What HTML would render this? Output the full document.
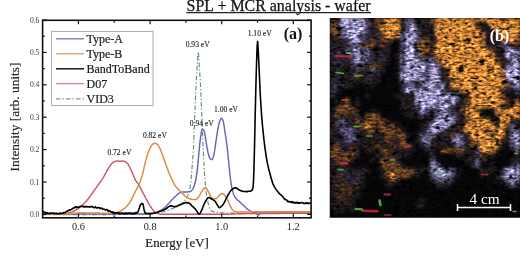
<!DOCTYPE html>
<html><head><meta charset="utf-8"><style>
html,body{margin:0;padding:0;background:#fff;}
body{width:520px;height:260px;overflow:hidden;position:relative;font-family:"Liberation Serif",serif;}
svg{position:absolute;left:0;top:0;}
</style></head><body>
<svg width="520" height="260" viewBox="0 0 520 260">
<defs>
<filter id="tex" x="0" y="0" width="100%" height="100%" color-interpolation-filters="sRGB">
<feGaussianBlur in="SourceGraphic" stdDeviation="1.4" result="b"/>
<feTurbulence type="fractalNoise" baseFrequency="0.14 0.24" numOctaves="2" seed="7" result="n"/>
<feColorMatrix in="n" type="matrix" values="0.33 0.33 0.33 0 0  0.33 0.33 0.33 0 0  0.33 0.33 0.33 0 0  0 0 0 0 1" result="g0"/>
<feComponentTransfer in="g0" result="g"><feFuncR type="table" tableValues="0 0 0 0 0 0 0.02 0.2 0.5 0.7 0.78 0.83 0.86 0.89 0.92 0.94 0.96 0.98 1 1 1"/><feFuncG type="table" tableValues="0 0 0 0 0 0 0.02 0.2 0.5 0.7 0.78 0.83 0.86 0.89 0.92 0.94 0.96 0.98 1 1 1"/><feFuncB type="table" tableValues="0 0 0 0 0 0 0.02 0.2 0.5 0.7 0.78 0.83 0.86 0.89 0.92 0.94 0.96 0.98 1 1 1"/></feComponentTransfer>
<feComposite in="b" in2="g" operator="arithmetic" k1="1.35" k2="0" k3="0" k4="0" result="t1"/>
<feTurbulence type="fractalNoise" baseFrequency="0.26 0.48" numOctaves="2" seed="11" result="n2"/>
<feColorMatrix in="n2" type="matrix" values="0.33 0.33 0.33 0 0  0.33 0.33 0.33 0 0  0.33 0.33 0.33 0 0  0 0 0 0 1" result="g2"/>
<feComposite in="t1" in2="g2" operator="arithmetic" k1="3.8" k2="-0.88" k3="0" k4="0" result="t"/>
<feGaussianBlur in="t" stdDeviation="0.45" result="t2"/>
<feComposite in="t2" in2="SourceGraphic" operator="in"/>
</filter>
<filter id="sb" x="-10%" y="-10%" width="120%" height="120%"><feGaussianBlur stdDeviation="0.7"/></filter>
<clipPath id="pc"><rect x="42.6" y="20.3" width="268.5" height="197.5"/></clipPath>
</defs>
<text x="186.6" y="11.3" font-size="16" fill="#111" stroke="#111" stroke-width="0.25" textLength="184" lengthAdjust="spacingAndGlyphs">SPL + MCR analysis - wafer</text>
<line x1="186.3" y1="12.7" x2="371" y2="12.7" stroke="#222" stroke-width="1.2"/>
<!-- image -->
<g transform="translate(329.5,18)">
<svg x="0" y="0" width="190.5" height="199.7" overflow="hidden">
<g filter="url(#tex)">
<rect x="0" y="0" width="191" height="200" fill="#060608"/>
<g transform="translate(0.5,0)"><rect x="0" y="0" width="10.1" height="5.1" fill="#1f181a"/><rect x="10" y="0" width="25.1" height="5.1" fill="#9690bc"/><rect x="35" y="0" width="5.1" height="5.1" fill="#262130"/><rect x="40" y="0" width="5.1" height="5.1" fill="#1f181a"/><rect x="45" y="0" width="10.1" height="5.1" fill="#603c20"/><rect x="55" y="0" width="15.1" height="5.1" fill="#c47c34"/><rect x="70" y="0" width="5.1" height="5.1" fill="#1f181a"/><rect x="75" y="0" width="10.1" height="5.1" fill="#4c4666"/><rect x="85" y="0" width="15.1" height="5.1" fill="#1f181a"/><rect x="100" y="0" width="5.1" height="5.1" fill="#603c20"/><rect x="105" y="0" width="40.1" height="5.1" fill="#c47c34"/><rect x="145" y="0" width="5.1" height="5.1" fill="#603c20"/><rect x="150" y="0" width="40.1" height="5.1" fill="#c47c34"/><rect x="0" y="5" width="10.1" height="5.1" fill="#603c20"/><rect x="10" y="5" width="25.1" height="5.1" fill="#9690bc"/><rect x="35" y="5" width="5.1" height="5.1" fill="#4c4666"/><rect x="40" y="5" width="5.1" height="5.1" fill="#1f181a"/><rect x="45" y="5" width="5.1" height="5.1" fill="#603c20"/><rect x="50" y="5" width="20.1" height="5.1" fill="#c47c34"/><rect x="70" y="5" width="5.1" height="5.1" fill="#1f181a"/><rect x="75" y="5" width="5.1" height="5.1" fill="#4c4666"/><rect x="80" y="5" width="5.1" height="5.1" fill="#9690bc"/><rect x="85" y="5" width="20.1" height="5.1" fill="#1f181a"/><rect x="105" y="5" width="40.1" height="5.1" fill="#c47c34"/><rect x="145" y="5" width="15.1" height="5.1" fill="#1f181a"/><rect x="160" y="5" width="30.1" height="5.1" fill="#c47c34"/><rect x="0" y="10" width="10.1" height="5.1" fill="#603c20"/><rect x="10" y="10" width="5.1" height="5.1" fill="#4c4666"/><rect x="15" y="10" width="20.1" height="5.1" fill="#9690bc"/><rect x="35" y="10" width="5.1" height="5.1" fill="#4c4666"/><rect x="40" y="10" width="10.1" height="5.1" fill="#1f181a"/><rect x="50" y="10" width="20.1" height="5.1" fill="#c47c34"/><rect x="70" y="10" width="5.1" height="5.1" fill="#1f181a"/><rect x="75" y="10" width="5.1" height="5.1" fill="#4c4666"/><rect x="80" y="10" width="5.1" height="5.1" fill="#9690bc"/><rect x="85" y="10" width="5.1" height="5.1" fill="#4c4666"/><rect x="90" y="10" width="15.1" height="5.1" fill="#1f181a"/><rect x="105" y="10" width="45.1" height="5.1" fill="#c47c34"/><rect x="150" y="10" width="15.1" height="5.1" fill="#1f181a"/><rect x="165" y="10" width="25.1" height="5.1" fill="#c47c34"/><rect x="0" y="15" width="5.1" height="5.1" fill="#1f181a"/><rect x="5" y="15" width="5.1" height="5.1" fill="#603c20"/><rect x="10" y="15" width="5.1" height="5.1" fill="#4c4666"/><rect x="15" y="15" width="15.1" height="5.1" fill="#9690bc"/><rect x="30" y="15" width="5.1" height="5.1" fill="#4c4666"/><rect x="35" y="15" width="5.1" height="5.1" fill="#262130"/><rect x="40" y="15" width="5.1" height="5.1" fill="#1f181a"/><rect x="45" y="15" width="5.1" height="5.1" fill="#262130"/><rect x="50" y="15" width="5.1" height="5.1" fill="#603c20"/><rect x="55" y="15" width="15.1" height="5.1" fill="#c47c34"/><rect x="70" y="15" width="5.1" height="5.1" fill="#4c4666"/><rect x="75" y="15" width="10.1" height="5.1" fill="#9690bc"/><rect x="85" y="15" width="5.1" height="5.1" fill="#4c4666"/><rect x="90" y="15" width="15.1" height="5.1" fill="#1f181a"/><rect x="105" y="15" width="50.1" height="5.1" fill="#c47c34"/><rect x="155" y="15" width="10.1" height="5.1" fill="#1f181a"/><rect x="165" y="15" width="5.1" height="5.1" fill="#603c20"/><rect x="170" y="15" width="20.1" height="5.1" fill="#c47c34"/><rect x="0" y="20" width="10.1" height="5.1" fill="#1f181a"/><rect x="10" y="20" width="5.1" height="5.1" fill="#262130"/><rect x="15" y="20" width="5.1" height="5.1" fill="#4c4666"/><rect x="20" y="20" width="10.1" height="5.1" fill="#9690bc"/><rect x="30" y="20" width="5.1" height="5.1" fill="#4c4666"/><rect x="35" y="20" width="5.1" height="5.1" fill="#262130"/><rect x="40" y="20" width="5.1" height="5.1" fill="#603c20"/><rect x="45" y="20" width="5.1" height="5.1" fill="#262130"/><rect x="50" y="20" width="10.1" height="5.1" fill="#603c20"/><rect x="60" y="20" width="5.1" height="5.1" fill="#1f181a"/><rect x="70" y="20" width="5.1" height="5.1" fill="#4c4666"/><rect x="75" y="20" width="10.1" height="5.1" fill="#9690bc"/><rect x="85" y="20" width="5.1" height="5.1" fill="#4c4666"/><rect x="90" y="20" width="10.1" height="5.1" fill="#603c20"/><rect x="100" y="20" width="5.1" height="5.1" fill="#1f181a"/><rect x="105" y="20" width="5.1" height="5.1" fill="#603c20"/><rect x="110" y="20" width="40.1" height="5.1" fill="#c47c34"/><rect x="150" y="20" width="5.1" height="5.1" fill="#603c20"/><rect x="155" y="20" width="15.1" height="5.1" fill="#1f181a"/><rect x="170" y="20" width="5.1" height="5.1" fill="#603c20"/><rect x="175" y="20" width="10.1" height="5.1" fill="#c47c34"/><rect x="185" y="20" width="5.1" height="5.1" fill="#603c20"/><rect x="0" y="25" width="5.1" height="5.1" fill="#1f181a"/><rect x="5" y="25" width="5.1" height="5.1" fill="#262130"/><rect x="10" y="25" width="5.1" height="5.1" fill="#1f181a"/><rect x="15" y="25" width="5.1" height="5.1" fill="#262130"/><rect x="20" y="25" width="10.1" height="5.1" fill="#4c4666"/><rect x="30" y="25" width="15.1" height="5.1" fill="#603c20"/><rect x="45" y="25" width="5.1" height="5.1" fill="#262130"/><rect x="50" y="25" width="10.1" height="5.1" fill="#1f181a"/><rect x="70" y="25" width="5.1" height="5.1" fill="#4c4666"/><rect x="75" y="25" width="5.1" height="5.1" fill="#9690bc"/><rect x="80" y="25" width="5.1" height="5.1" fill="#4c4666"/><rect x="85" y="25" width="15.1" height="5.1" fill="#603c20"/><rect x="100" y="25" width="5.1" height="5.1" fill="#1f181a"/><rect x="105" y="25" width="50.1" height="5.1" fill="#c47c34"/><rect x="155" y="25" width="15.1" height="5.1" fill="#1f181a"/><rect x="170" y="25" width="10.1" height="5.1" fill="#4c4666"/><rect x="185" y="25" width="5.1" height="5.1" fill="#603c20"/><rect x="0" y="30" width="5.1" height="5.1" fill="#262130"/><rect x="5" y="30" width="5.1" height="5.1" fill="#1f181a"/><rect x="10" y="30" width="5.1" height="5.1" fill="#262130"/><rect x="15" y="30" width="10.1" height="5.1" fill="#4c4666"/><rect x="25" y="30" width="5.1" height="5.1" fill="#9690bc"/><rect x="30" y="30" width="10.1" height="5.1" fill="#4c4666"/><rect x="40" y="30" width="10.1" height="5.1" fill="#1f181a"/><rect x="50" y="30" width="5.1" height="5.1" fill="#262130"/><rect x="55" y="30" width="5.1" height="5.1" fill="#1f181a"/><rect x="70" y="30" width="5.1" height="5.1" fill="#4c4666"/><rect x="75" y="30" width="10.1" height="5.1" fill="#9690bc"/><rect x="85" y="30" width="5.1" height="5.1" fill="#4c4666"/><rect x="90" y="30" width="15.1" height="5.1" fill="#603c20"/><rect x="105" y="30" width="55.1" height="5.1" fill="#c47c34"/><rect x="160" y="30" width="5.1" height="5.1" fill="#603c20"/><rect x="165" y="30" width="5.1" height="5.1" fill="#1f181a"/><rect x="175" y="30" width="10.1" height="5.1" fill="#9690bc"/><rect x="185" y="30" width="5.1" height="5.1" fill="#4c4666"/><rect x="0" y="35" width="20.1" height="5.1" fill="#262130"/><rect x="20" y="35" width="5.1" height="5.1" fill="#4c4666"/><rect x="25" y="35" width="5.1" height="5.1" fill="#9690bc"/><rect x="30" y="35" width="10.1" height="5.1" fill="#4c4666"/><rect x="40" y="35" width="5.1" height="5.1" fill="#262130"/><rect x="45" y="35" width="5.1" height="5.1" fill="#1f181a"/><rect x="50" y="35" width="5.1" height="5.1" fill="#262130"/><rect x="55" y="35" width="5.1" height="5.1" fill="#1f181a"/><rect x="65" y="35" width="5.1" height="5.1" fill="#1f181a"/><rect x="70" y="35" width="5.1" height="5.1" fill="#4c4666"/><rect x="75" y="35" width="10.1" height="5.1" fill="#9690bc"/><rect x="85" y="35" width="5.1" height="5.1" fill="#4c4666"/><rect x="90" y="35" width="5.1" height="5.1" fill="#603c20"/><rect x="95" y="35" width="10.1" height="5.1" fill="#1f181a"/><rect x="105" y="35" width="60.1" height="5.1" fill="#c47c34"/><rect x="165" y="35" width="10.1" height="5.1" fill="#1f181a"/><rect x="175" y="35" width="5.1" height="5.1" fill="#9690bc"/><rect x="180" y="35" width="5.1" height="5.1" fill="#4c4666"/><rect x="185" y="35" width="5.1" height="5.1" fill="#9690bc"/><rect x="0" y="40" width="15.1" height="5.1" fill="#262130"/><rect x="15" y="40" width="5.1" height="5.1" fill="#1f181a"/><rect x="20" y="40" width="5.1" height="5.1" fill="#4c4666"/><rect x="25" y="40" width="5.1" height="5.1" fill="#9690bc"/><rect x="30" y="40" width="10.1" height="5.1" fill="#4c4666"/><rect x="40" y="40" width="15.1" height="5.1" fill="#262130"/><rect x="55" y="40" width="5.1" height="5.1" fill="#1f181a"/><rect x="70" y="40" width="5.1" height="5.1" fill="#4c4666"/><rect x="75" y="40" width="15.1" height="5.1" fill="#9690bc"/><rect x="90" y="40" width="15.1" height="5.1" fill="#4c4666"/><rect x="105" y="40" width="5.1" height="5.1" fill="#603c20"/><rect x="110" y="40" width="55.1" height="5.1" fill="#c47c34"/><rect x="165" y="40" width="5.1" height="5.1" fill="#603c20"/><rect x="170" y="40" width="10.1" height="5.1" fill="#1f181a"/><rect x="180" y="40" width="10.1" height="5.1" fill="#9690bc"/><rect x="0" y="45" width="5.1" height="5.1" fill="#1f181a"/><rect x="5" y="45" width="5.1" height="5.1" fill="#262130"/><rect x="10" y="45" width="10.1" height="5.1" fill="#1f181a"/><rect x="20" y="45" width="5.1" height="5.1" fill="#262130"/><rect x="25" y="45" width="10.1" height="5.1" fill="#4c4666"/><rect x="35" y="45" width="5.1" height="5.1" fill="#1f181a"/><rect x="40" y="45" width="10.1" height="5.1" fill="#603c20"/><rect x="50" y="45" width="5.1" height="5.1" fill="#1f181a"/><rect x="65" y="45" width="5.1" height="5.1" fill="#1f181a"/><rect x="70" y="45" width="5.1" height="5.1" fill="#4c4666"/><rect x="75" y="45" width="20.1" height="5.1" fill="#9690bc"/><rect x="95" y="45" width="5.1" height="5.1" fill="#4c4666"/><rect x="100" y="45" width="5.1" height="5.1" fill="#9690bc"/><rect x="105" y="45" width="5.1" height="5.1" fill="#4c4666"/><rect x="110" y="45" width="5.1" height="5.1" fill="#603c20"/><rect x="115" y="45" width="55.1" height="5.1" fill="#c47c34"/><rect x="170" y="45" width="5.1" height="5.1" fill="#1f181a"/><rect x="175" y="45" width="5.1" height="5.1" fill="#4c4666"/><rect x="180" y="45" width="10.1" height="5.1" fill="#9690bc"/><rect x="0" y="50" width="5.1" height="5.1" fill="#1f181a"/><rect x="5" y="50" width="5.1" height="5.1" fill="#262130"/><rect x="10" y="50" width="5.1" height="5.1" fill="#1f181a"/><rect x="20" y="50" width="10.1" height="5.1" fill="#262130"/><rect x="30" y="50" width="5.1" height="5.1" fill="#1f181a"/><rect x="35" y="50" width="5.1" height="5.1" fill="#262130"/><rect x="40" y="50" width="5.1" height="5.1" fill="#4c4666"/><rect x="45" y="50" width="5.1" height="5.1" fill="#262130"/><rect x="50" y="50" width="5.1" height="5.1" fill="#1f181a"/><rect x="70" y="50" width="5.1" height="5.1" fill="#4c4666"/><rect x="75" y="50" width="20.1" height="5.1" fill="#9690bc"/><rect x="95" y="50" width="5.1" height="5.1" fill="#4c4666"/><rect x="100" y="50" width="10.1" height="5.1" fill="#9690bc"/><rect x="110" y="50" width="10.1" height="5.1" fill="#1f181a"/><rect x="120" y="50" width="55.1" height="5.1" fill="#c47c34"/><rect x="175" y="50" width="15.1" height="5.1" fill="#9690bc"/><rect x="0" y="55" width="5.1" height="5.1" fill="#1f181a"/><rect x="5" y="55" width="5.1" height="5.1" fill="#262130"/><rect x="10" y="55" width="10.1" height="5.1" fill="#1f181a"/><rect x="20" y="55" width="5.1" height="5.1" fill="#262130"/><rect x="25" y="55" width="5.1" height="5.1" fill="#603c20"/><rect x="30" y="55" width="5.1" height="5.1" fill="#1f181a"/><rect x="35" y="55" width="15.1" height="5.1" fill="#262130"/><rect x="65" y="55" width="5.1" height="5.1" fill="#1f181a"/><rect x="70" y="55" width="20.1" height="5.1" fill="#9690bc"/><rect x="90" y="55" width="10.1" height="5.1" fill="#4c4666"/><rect x="100" y="55" width="10.1" height="5.1" fill="#9690bc"/><rect x="110" y="55" width="5.1" height="5.1" fill="#1f181a"/><rect x="115" y="55" width="5.1" height="5.1" fill="#603c20"/><rect x="120" y="55" width="50.1" height="5.1" fill="#c47c34"/><rect x="170" y="55" width="5.1" height="5.1" fill="#603c20"/><rect x="175" y="55" width="15.1" height="5.1" fill="#9690bc"/><rect x="0" y="60" width="10.1" height="5.1" fill="#262130"/><rect x="15" y="60" width="25.1" height="5.1" fill="#1f181a"/><rect x="40" y="60" width="5.1" height="5.1" fill="#262130"/><rect x="45" y="60" width="5.1" height="5.1" fill="#1f181a"/><rect x="70" y="60" width="5.1" height="5.1" fill="#4c4666"/><rect x="75" y="60" width="10.1" height="5.1" fill="#9690bc"/><rect x="85" y="60" width="5.1" height="5.1" fill="#4c4666"/><rect x="90" y="60" width="5.1" height="5.1" fill="#9690bc"/><rect x="95" y="60" width="5.1" height="5.1" fill="#4c4666"/><rect x="100" y="60" width="10.1" height="5.1" fill="#9690bc"/><rect x="110" y="60" width="10.1" height="5.1" fill="#1f181a"/><rect x="120" y="60" width="5.1" height="5.1" fill="#603c20"/><rect x="125" y="60" width="50.1" height="5.1" fill="#c47c34"/><rect x="175" y="60" width="5.1" height="5.1" fill="#4c4666"/><rect x="180" y="60" width="10.1" height="5.1" fill="#9690bc"/><rect x="0" y="65" width="15.1" height="5.1" fill="#262130"/><rect x="15" y="65" width="10.1" height="5.1" fill="#1f181a"/><rect x="35" y="65" width="10.1" height="5.1" fill="#1f181a"/><rect x="70" y="65" width="5.1" height="5.1" fill="#262130"/><rect x="75" y="65" width="10.1" height="5.1" fill="#4c4666"/><rect x="85" y="65" width="5.1" height="5.1" fill="#1f181a"/><rect x="90" y="65" width="5.1" height="5.1" fill="#4c4666"/><rect x="95" y="65" width="10.1" height="5.1" fill="#9690bc"/><rect x="105" y="65" width="5.1" height="5.1" fill="#4c4666"/><rect x="110" y="65" width="5.1" height="5.1" fill="#9690bc"/><rect x="115" y="65" width="5.1" height="5.1" fill="#1f181a"/><rect x="120" y="65" width="55.1" height="5.1" fill="#c47c34"/><rect x="175" y="65" width="5.1" height="5.1" fill="#603c20"/><rect x="180" y="65" width="5.1" height="5.1" fill="#4c4666"/><rect x="185" y="65" width="5.1" height="5.1" fill="#9690bc"/><rect x="0" y="70" width="10.1" height="5.1" fill="#262130"/><rect x="70" y="70" width="5.1" height="5.1" fill="#262130"/><rect x="75" y="70" width="10.1" height="5.1" fill="#9690bc"/><rect x="85" y="70" width="5.1" height="5.1" fill="#4c4666"/><rect x="90" y="70" width="20.1" height="5.1" fill="#9690bc"/><rect x="110" y="70" width="5.1" height="5.1" fill="#4c4666"/><rect x="115" y="70" width="15.1" height="5.1" fill="#1f181a"/><rect x="130" y="70" width="40.1" height="5.1" fill="#c47c34"/><rect x="170" y="70" width="15.1" height="5.1" fill="#1f181a"/><rect x="185" y="70" width="5.1" height="5.1" fill="#4c4666"/><rect x="0" y="75" width="5.1" height="5.1" fill="#262130"/><rect x="35" y="75" width="5.1" height="5.1" fill="#1f181a"/><rect x="65" y="75" width="20.1" height="5.1" fill="#1f181a"/><rect x="85" y="75" width="40.1" height="5.1" fill="#9690bc"/><rect x="125" y="75" width="5.1" height="5.1" fill="#4c4666"/><rect x="130" y="75" width="10.1" height="5.1" fill="#1f181a"/><rect x="140" y="75" width="30.1" height="5.1" fill="#c47c34"/><rect x="170" y="75" width="5.1" height="5.1" fill="#603c20"/><rect x="175" y="75" width="5.1" height="5.1" fill="#1f181a"/><rect x="185" y="75" width="5.1" height="5.1" fill="#1f181a"/><rect x="5" y="80" width="5.1" height="5.1" fill="#1f181a"/><rect x="15" y="80" width="5.1" height="5.1" fill="#603c20"/><rect x="25" y="80" width="5.1" height="5.1" fill="#1f181a"/><rect x="70" y="80" width="15.1" height="5.1" fill="#1f181a"/><rect x="85" y="80" width="30.1" height="5.1" fill="#9690bc"/><rect x="115" y="80" width="5.1" height="5.1" fill="#4c4666"/><rect x="120" y="80" width="5.1" height="5.1" fill="#9690bc"/><rect x="125" y="80" width="5.1" height="5.1" fill="#4c4666"/><rect x="130" y="80" width="5.1" height="5.1" fill="#1f181a"/><rect x="135" y="80" width="5.1" height="5.1" fill="#603c20"/><rect x="140" y="80" width="35.1" height="5.1" fill="#c47c34"/><rect x="175" y="80" width="5.1" height="5.1" fill="#603c20"/><rect x="180" y="80" width="5.1" height="5.1" fill="#1f181a"/><rect x="185" y="80" width="5.1" height="5.1" fill="#603c20"/><rect x="5" y="85" width="5.1" height="5.1" fill="#1f181a"/><rect x="10" y="85" width="10.1" height="5.1" fill="#603c20"/><rect x="20" y="85" width="10.1" height="5.1" fill="#1f181a"/><rect x="70" y="85" width="15.1" height="5.1" fill="#1f181a"/><rect x="85" y="85" width="5.1" height="5.1" fill="#4c4666"/><rect x="90" y="85" width="15.1" height="5.1" fill="#9690bc"/><rect x="105" y="85" width="5.1" height="5.1" fill="#4c4666"/><rect x="110" y="85" width="10.1" height="5.1" fill="#9690bc"/><rect x="120" y="85" width="5.1" height="5.1" fill="#4c4666"/><rect x="125" y="85" width="10.1" height="5.1" fill="#1f181a"/><rect x="135" y="85" width="5.1" height="5.1" fill="#603c20"/><rect x="140" y="85" width="30.1" height="5.1" fill="#c47c34"/><rect x="170" y="85" width="10.1" height="5.1" fill="#1f181a"/><rect x="180" y="85" width="5.1" height="5.1" fill="#603c20"/><rect x="185" y="85" width="5.1" height="5.1" fill="#c47c34"/><rect x="0" y="90" width="5.1" height="5.1" fill="#1f181a"/><rect x="5" y="90" width="20.1" height="5.1" fill="#603c20"/><rect x="25" y="90" width="5.1" height="5.1" fill="#1f181a"/><rect x="40" y="90" width="5.1" height="5.1" fill="#1f181a"/><rect x="70" y="90" width="15.1" height="5.1" fill="#1f181a"/><rect x="85" y="90" width="5.1" height="5.1" fill="#262130"/><rect x="90" y="90" width="5.1" height="5.1" fill="#9690bc"/><rect x="95" y="90" width="5.1" height="5.1" fill="#4c4666"/><rect x="100" y="90" width="5.1" height="5.1" fill="#1f181a"/><rect x="105" y="90" width="5.1" height="5.1" fill="#4c4666"/><rect x="110" y="90" width="5.1" height="5.1" fill="#9690bc"/><rect x="115" y="90" width="5.1" height="5.1" fill="#4c4666"/><rect x="120" y="90" width="10.1" height="5.1" fill="#1f181a"/><rect x="130" y="90" width="5.1" height="5.1" fill="#603c20"/><rect x="135" y="90" width="15.1" height="5.1" fill="#c47c34"/><rect x="150" y="90" width="5.1" height="5.1" fill="#1f181a"/><rect x="160" y="90" width="5.1" height="5.1" fill="#1f181a"/><rect x="165" y="90" width="5.1" height="5.1" fill="#c47c34"/><rect x="170" y="90" width="5.1" height="5.1" fill="#603c20"/><rect x="175" y="90" width="15.1" height="5.1" fill="#c47c34"/><rect x="0" y="95" width="5.1" height="5.1" fill="#1f181a"/><rect x="5" y="95" width="5.1" height="5.1" fill="#603c20"/><rect x="10" y="95" width="5.1" height="5.1" fill="#1f181a"/><rect x="15" y="95" width="5.1" height="5.1" fill="#603c20"/><rect x="20" y="95" width="5.1" height="5.1" fill="#1f181a"/><rect x="25" y="95" width="5.1" height="5.1" fill="#262130"/><rect x="35" y="95" width="15.1" height="5.1" fill="#603c20"/><rect x="75" y="95" width="15.1" height="5.1" fill="#1f181a"/><rect x="90" y="95" width="5.1" height="5.1" fill="#4c4666"/><rect x="95" y="95" width="5.1" height="5.1" fill="#262130"/><rect x="105" y="95" width="5.1" height="5.1" fill="#4c4666"/><rect x="110" y="95" width="10.1" height="5.1" fill="#9690bc"/><rect x="120" y="95" width="10.1" height="5.1" fill="#4c4666"/><rect x="130" y="95" width="5.1" height="5.1" fill="#1f181a"/><rect x="135" y="95" width="5.1" height="5.1" fill="#603c20"/><rect x="140" y="95" width="10.1" height="5.1" fill="#c47c34"/><rect x="150" y="95" width="5.1" height="5.1" fill="#1f181a"/><rect x="165" y="95" width="5.1" height="5.1" fill="#603c20"/><rect x="170" y="95" width="20.1" height="5.1" fill="#c47c34"/><rect x="0" y="100" width="5.1" height="5.1" fill="#1f181a"/><rect x="5" y="100" width="5.1" height="5.1" fill="#262130"/><rect x="10" y="100" width="5.1" height="5.1" fill="#4c4666"/><rect x="15" y="100" width="5.1" height="5.1" fill="#262130"/><rect x="20" y="100" width="5.1" height="5.1" fill="#1f181a"/><rect x="25" y="100" width="5.1" height="5.1" fill="#603c20"/><rect x="30" y="100" width="5.1" height="5.1" fill="#1f181a"/><rect x="35" y="100" width="20.1" height="5.1" fill="#603c20"/><rect x="55" y="100" width="5.1" height="5.1" fill="#1f181a"/><rect x="95" y="100" width="10.1" height="5.1" fill="#1f181a"/><rect x="105" y="100" width="20.1" height="5.1" fill="#9690bc"/><rect x="125" y="100" width="10.1" height="5.1" fill="#1f181a"/><rect x="135" y="100" width="5.1" height="5.1" fill="#603c20"/><rect x="140" y="100" width="20.1" height="5.1" fill="#c47c34"/><rect x="160" y="100" width="10.1" height="5.1" fill="#1f181a"/><rect x="170" y="100" width="10.1" height="5.1" fill="#c47c34"/><rect x="180" y="100" width="10.1" height="5.1" fill="#1f181a"/><rect x="0" y="105" width="5.1" height="5.1" fill="#1f181a"/><rect x="5" y="105" width="10.1" height="5.1" fill="#4c4666"/><rect x="15" y="105" width="5.1" height="5.1" fill="#262130"/><rect x="20" y="105" width="5.1" height="5.1" fill="#1f181a"/><rect x="25" y="105" width="10.1" height="5.1" fill="#603c20"/><rect x="35" y="105" width="5.1" height="5.1" fill="#c47c34"/><rect x="40" y="105" width="15.1" height="5.1" fill="#603c20"/><rect x="55" y="105" width="5.1" height="5.1" fill="#1f181a"/><rect x="60" y="105" width="5.1" height="5.1" fill="#603c20"/><rect x="65" y="105" width="5.1" height="5.1" fill="#1f181a"/><rect x="90" y="105" width="5.1" height="5.1" fill="#1f181a"/><rect x="95" y="105" width="5.1" height="5.1" fill="#262130"/><rect x="100" y="105" width="20.1" height="5.1" fill="#9690bc"/><rect x="120" y="105" width="15.1" height="5.1" fill="#1f181a"/><rect x="135" y="105" width="30.1" height="5.1" fill="#c47c34"/><rect x="165" y="105" width="5.1" height="5.1" fill="#1f181a"/><rect x="170" y="105" width="5.1" height="5.1" fill="#c47c34"/><rect x="175" y="105" width="5.1" height="5.1" fill="#603c20"/><rect x="180" y="105" width="5.1" height="5.1" fill="#4c4666"/><rect x="185" y="105" width="5.1" height="5.1" fill="#1f181a"/><rect x="0" y="110" width="5.1" height="5.1" fill="#1f181a"/><rect x="5" y="110" width="5.1" height="5.1" fill="#262130"/><rect x="10" y="110" width="15.1" height="5.1" fill="#4c4666"/><rect x="25" y="110" width="5.1" height="5.1" fill="#262130"/><rect x="30" y="110" width="5.1" height="5.1" fill="#1f181a"/><rect x="35" y="110" width="10.1" height="5.1" fill="#603c20"/><rect x="45" y="110" width="5.1" height="5.1" fill="#1f181a"/><rect x="50" y="110" width="20.1" height="5.1" fill="#603c20"/><rect x="70" y="110" width="5.1" height="5.1" fill="#1f181a"/><rect x="90" y="110" width="5.1" height="5.1" fill="#1f181a"/><rect x="95" y="110" width="5.1" height="5.1" fill="#4c4666"/><rect x="100" y="110" width="10.1" height="5.1" fill="#9690bc"/><rect x="110" y="110" width="5.1" height="5.1" fill="#4c4666"/><rect x="115" y="110" width="15.1" height="5.1" fill="#1f181a"/><rect x="130" y="110" width="5.1" height="5.1" fill="#603c20"/><rect x="135" y="110" width="20.1" height="5.1" fill="#c47c34"/><rect x="155" y="110" width="5.1" height="5.1" fill="#1f181a"/><rect x="160" y="110" width="15.1" height="5.1" fill="#c47c34"/><rect x="175" y="110" width="5.1" height="5.1" fill="#1f181a"/><rect x="180" y="110" width="5.1" height="5.1" fill="#4c4666"/><rect x="185" y="110" width="5.1" height="5.1" fill="#9690bc"/><rect x="0" y="115" width="10.1" height="5.1" fill="#1f181a"/><rect x="10" y="115" width="5.1" height="5.1" fill="#262130"/><rect x="15" y="115" width="10.1" height="5.1" fill="#4c4666"/><rect x="25" y="115" width="5.1" height="5.1" fill="#262130"/><rect x="30" y="115" width="25.1" height="5.1" fill="#1f181a"/><rect x="55" y="115" width="20.1" height="5.1" fill="#603c20"/><rect x="75" y="115" width="5.1" height="5.1" fill="#1f181a"/><rect x="85" y="115" width="5.1" height="5.1" fill="#1f181a"/><rect x="90" y="115" width="15.1" height="5.1" fill="#4c4666"/><rect x="105" y="115" width="15.1" height="5.1" fill="#1f181a"/><rect x="120" y="115" width="5.1" height="5.1" fill="#603c20"/><rect x="125" y="115" width="10.1" height="5.1" fill="#4c4666"/><rect x="135" y="115" width="5.1" height="5.1" fill="#1f181a"/><rect x="140" y="115" width="20.1" height="5.1" fill="#c47c34"/><rect x="160" y="115" width="5.1" height="5.1" fill="#1f181a"/><rect x="165" y="115" width="10.1" height="5.1" fill="#c47c34"/><rect x="175" y="115" width="5.1" height="5.1" fill="#1f181a"/><rect x="180" y="115" width="10.1" height="5.1" fill="#9690bc"/><rect x="0" y="120" width="5.1" height="5.1" fill="#1f181a"/><rect x="5" y="120" width="10.1" height="5.1" fill="#262130"/><rect x="15" y="120" width="10.1" height="5.1" fill="#4c4666"/><rect x="25" y="120" width="5.1" height="5.1" fill="#262130"/><rect x="30" y="120" width="25.1" height="5.1" fill="#1f181a"/><rect x="55" y="120" width="5.1" height="5.1" fill="#603c20"/><rect x="60" y="120" width="10.1" height="5.1" fill="#1f181a"/><rect x="70" y="120" width="5.1" height="5.1" fill="#603c20"/><rect x="75" y="120" width="5.1" height="5.1" fill="#1f181a"/><rect x="85" y="120" width="5.1" height="5.1" fill="#1f181a"/><rect x="90" y="120" width="5.1" height="5.1" fill="#4c4666"/><rect x="95" y="120" width="5.1" height="5.1" fill="#9690bc"/><rect x="100" y="120" width="20.1" height="5.1" fill="#1f181a"/><rect x="120" y="120" width="5.1" height="5.1" fill="#4c4666"/><rect x="125" y="120" width="5.1" height="5.1" fill="#9690bc"/><rect x="130" y="120" width="5.1" height="5.1" fill="#4c4666"/><rect x="135" y="120" width="5.1" height="5.1" fill="#1f181a"/><rect x="140" y="120" width="5.1" height="5.1" fill="#603c20"/><rect x="145" y="120" width="25.1" height="5.1" fill="#c47c34"/><rect x="170" y="120" width="10.1" height="5.1" fill="#1f181a"/><rect x="180" y="120" width="5.1" height="5.1" fill="#4c4666"/><rect x="185" y="120" width="5.1" height="5.1" fill="#9690bc"/><rect x="0" y="125" width="5.1" height="5.1" fill="#1f181a"/><rect x="5" y="125" width="5.1" height="5.1" fill="#603c20"/><rect x="10" y="125" width="5.1" height="5.1" fill="#1f181a"/><rect x="15" y="125" width="5.1" height="5.1" fill="#262130"/><rect x="20" y="125" width="25.1" height="5.1" fill="#1f181a"/><rect x="45" y="125" width="5.1" height="5.1" fill="#603c20"/><rect x="50" y="125" width="10.1" height="5.1" fill="#1f181a"/><rect x="60" y="125" width="5.1" height="5.1" fill="#603c20"/><rect x="65" y="125" width="5.1" height="5.1" fill="#1f181a"/><rect x="70" y="125" width="10.1" height="5.1" fill="#603c20"/><rect x="80" y="125" width="5.1" height="5.1" fill="#1f181a"/><rect x="90" y="125" width="5.1" height="5.1" fill="#262130"/><rect x="95" y="125" width="5.1" height="5.1" fill="#4c4666"/><rect x="100" y="125" width="25.1" height="5.1" fill="#1f181a"/><rect x="125" y="125" width="10.1" height="5.1" fill="#4c4666"/><rect x="135" y="125" width="5.1" height="5.1" fill="#1f181a"/><rect x="140" y="125" width="10.1" height="5.1" fill="#603c20"/><rect x="150" y="125" width="20.1" height="5.1" fill="#c47c34"/><rect x="170" y="125" width="5.1" height="5.1" fill="#1f181a"/><rect x="180" y="125" width="5.1" height="5.1" fill="#4c4666"/><rect x="185" y="125" width="5.1" height="5.1" fill="#9690bc"/><rect x="0" y="130" width="10.1" height="5.1" fill="#603c20"/><rect x="10" y="130" width="5.1" height="5.1" fill="#262130"/><rect x="15" y="130" width="5.1" height="5.1" fill="#1f181a"/><rect x="20" y="130" width="5.1" height="5.1" fill="#603c20"/><rect x="25" y="130" width="5.1" height="5.1" fill="#1f181a"/><rect x="35" y="130" width="10.1" height="5.1" fill="#1f181a"/><rect x="50" y="130" width="10.1" height="5.1" fill="#603c20"/><rect x="60" y="130" width="25.1" height="5.1" fill="#1f181a"/><rect x="95" y="130" width="10.1" height="5.1" fill="#1f181a"/><rect x="110" y="130" width="25.1" height="5.1" fill="#603c20"/><rect x="135" y="130" width="10.1" height="5.1" fill="#1f181a"/><rect x="145" y="130" width="5.1" height="5.1" fill="#4c4666"/><rect x="150" y="130" width="15.1" height="5.1" fill="#c47c34"/><rect x="165" y="130" width="5.1" height="5.1" fill="#1f181a"/><rect x="180" y="130" width="5.1" height="5.1" fill="#1f181a"/><rect x="185" y="130" width="5.1" height="5.1" fill="#4c4666"/><rect x="0" y="135" width="25.1" height="5.1" fill="#603c20"/><rect x="25" y="135" width="5.1" height="5.1" fill="#1f181a"/><rect x="45" y="135" width="10.1" height="5.1" fill="#1f181a"/><rect x="55" y="135" width="5.1" height="5.1" fill="#603c20"/><rect x="60" y="135" width="20.1" height="5.1" fill="#1f181a"/><rect x="100" y="135" width="5.1" height="5.1" fill="#262130"/><rect x="125" y="135" width="10.1" height="5.1" fill="#1f181a"/><rect x="140" y="135" width="5.1" height="5.1" fill="#1f181a"/><rect x="145" y="135" width="5.1" height="5.1" fill="#262130"/><rect x="150" y="135" width="5.1" height="5.1" fill="#603c20"/><rect x="155" y="135" width="10.1" height="5.1" fill="#1f181a"/><rect x="185" y="135" width="5.1" height="5.1" fill="#1f181a"/><rect x="0" y="140" width="5.1" height="5.1" fill="#1f181a"/><rect x="5" y="140" width="15.1" height="5.1" fill="#603c20"/><rect x="20" y="140" width="5.1" height="5.1" fill="#1f181a"/><rect x="40" y="140" width="5.1" height="5.1" fill="#1f181a"/><rect x="50" y="140" width="5.1" height="5.1" fill="#603c20"/><rect x="55" y="140" width="5.1" height="5.1" fill="#1f181a"/><rect x="60" y="140" width="5.1" height="5.1" fill="#603c20"/><rect x="65" y="140" width="5.1" height="5.1" fill="#1f181a"/><rect x="100" y="140" width="5.1" height="5.1" fill="#4c4666"/><rect x="105" y="140" width="5.1" height="5.1" fill="#1f181a"/><rect x="135" y="140" width="5.1" height="5.1" fill="#1f181a"/><rect x="140" y="140" width="5.1" height="5.1" fill="#262130"/><rect x="145" y="140" width="5.1" height="5.1" fill="#4c4666"/><rect x="150" y="140" width="10.1" height="5.1" fill="#1f181a"/><rect x="180" y="140" width="5.1" height="5.1" fill="#1f181a"/><rect x="185" y="140" width="5.1" height="5.1" fill="#262130"/><rect x="0" y="145" width="20.1" height="5.1" fill="#1f181a"/><rect x="50" y="145" width="20.1" height="5.1" fill="#603c20"/><rect x="70" y="145" width="5.1" height="5.1" fill="#1f181a"/><rect x="100" y="145" width="5.1" height="5.1" fill="#9690bc"/><rect x="105" y="145" width="5.1" height="5.1" fill="#4c4666"/><rect x="140" y="145" width="5.1" height="5.1" fill="#1f181a"/><rect x="145" y="145" width="5.1" height="5.1" fill="#4c4666"/><rect x="160" y="145" width="5.1" height="5.1" fill="#1f181a"/><rect x="180" y="145" width="5.1" height="5.1" fill="#262130"/><rect x="185" y="145" width="5.1" height="5.1" fill="#4c4666"/><rect x="0" y="150" width="10.1" height="5.1" fill="#1f181a"/><rect x="10" y="150" width="5.1" height="5.1" fill="#3a2618"/><rect x="15" y="150" width="5.1" height="5.1" fill="#262130"/><rect x="20" y="150" width="10.1" height="5.1" fill="#1f181a"/><rect x="30" y="150" width="5.1" height="5.1" fill="#262130"/><rect x="35" y="150" width="5.1" height="5.1" fill="#1f181a"/><rect x="50" y="150" width="5.1" height="5.1" fill="#1f181a"/><rect x="55" y="150" width="30.1" height="5.1" fill="#603c20"/><rect x="85" y="150" width="15.1" height="5.1" fill="#1f181a"/><rect x="100" y="150" width="5.1" height="5.1" fill="#4c4666"/><rect x="105" y="150" width="10.1" height="5.1" fill="#9690bc"/><rect x="115" y="150" width="10.1" height="5.1" fill="#4c4666"/><rect x="125" y="150" width="5.1" height="5.1" fill="#1f181a"/><rect x="150" y="150" width="20.1" height="5.1" fill="#1f181a"/><rect x="170" y="150" width="5.1" height="5.1" fill="#262130"/><rect x="175" y="150" width="15.1" height="5.1" fill="#9690bc"/><rect x="0" y="155" width="5.1" height="5.1" fill="#1f181a"/><rect x="5" y="155" width="5.1" height="5.1" fill="#3a2618"/><rect x="10" y="155" width="20.1" height="5.1" fill="#262130"/><rect x="30" y="155" width="5.1" height="5.1" fill="#1f181a"/><rect x="50" y="155" width="5.1" height="5.1" fill="#1f181a"/><rect x="55" y="155" width="5.1" height="5.1" fill="#603c20"/><rect x="60" y="155" width="5.1" height="5.1" fill="#c47c34"/><rect x="65" y="155" width="15.1" height="5.1" fill="#603c20"/><rect x="80" y="155" width="10.1" height="5.1" fill="#1f181a"/><rect x="100" y="155" width="5.1" height="5.1" fill="#4c4666"/><rect x="105" y="155" width="15.1" height="5.1" fill="#9690bc"/><rect x="120" y="155" width="5.1" height="5.1" fill="#4c4666"/><rect x="125" y="155" width="5.1" height="5.1" fill="#1f181a"/><rect x="150" y="155" width="10.1" height="5.1" fill="#1f181a"/><rect x="165" y="155" width="5.1" height="5.1" fill="#1f181a"/><rect x="170" y="155" width="5.1" height="5.1" fill="#4c4666"/><rect x="175" y="155" width="15.1" height="5.1" fill="#9690bc"/><rect x="0" y="160" width="10.1" height="5.1" fill="#1f181a"/><rect x="10" y="160" width="5.1" height="5.1" fill="#3a2618"/><rect x="15" y="160" width="15.1" height="5.1" fill="#262130"/><rect x="30" y="160" width="5.1" height="5.1" fill="#1f181a"/><rect x="55" y="160" width="5.1" height="5.1" fill="#1f181a"/><rect x="60" y="160" width="5.1" height="5.1" fill="#603c20"/><rect x="65" y="160" width="10.1" height="5.1" fill="#1f181a"/><rect x="100" y="160" width="5.1" height="5.1" fill="#1f181a"/><rect x="105" y="160" width="15.1" height="5.1" fill="#4c4666"/><rect x="120" y="160" width="5.1" height="5.1" fill="#1f181a"/><rect x="165" y="160" width="10.1" height="5.1" fill="#1f181a"/><rect x="175" y="160" width="5.1" height="5.1" fill="#4c4666"/><rect x="180" y="160" width="5.1" height="5.1" fill="#9690bc"/><rect x="185" y="160" width="5.1" height="5.1" fill="#4c4666"/><rect x="0" y="165" width="5.1" height="5.1" fill="#1f181a"/><rect x="5" y="165" width="15.1" height="5.1" fill="#3a2618"/><rect x="20" y="165" width="5.1" height="5.1" fill="#262130"/><rect x="25" y="165" width="5.1" height="5.1" fill="#3a2618"/><rect x="30" y="165" width="5.1" height="5.1" fill="#1f181a"/><rect x="55" y="165" width="10.1" height="5.1" fill="#1f181a"/><rect x="105" y="165" width="15.1" height="5.1" fill="#1f181a"/><rect x="175" y="165" width="5.1" height="5.1" fill="#1f181a"/><rect x="180" y="165" width="5.1" height="5.1" fill="#4c4666"/><rect x="185" y="165" width="5.1" height="5.1" fill="#1f181a"/><rect x="0" y="170" width="10.1" height="5.1" fill="#1f181a"/><rect x="10" y="170" width="15.1" height="5.1" fill="#3a2618"/><rect x="25" y="170" width="5.1" height="5.1" fill="#1f181a"/><rect x="0" y="175" width="5.1" height="5.1" fill="#1f181a"/><rect x="5" y="175" width="15.1" height="5.1" fill="#3a2618"/><rect x="20" y="175" width="10.1" height="5.1" fill="#1f181a"/><rect x="0" y="180" width="10.1" height="5.1" fill="#1f181a"/><rect x="10" y="180" width="5.1" height="5.1" fill="#3a2618"/><rect x="15" y="180" width="10.1" height="5.1" fill="#1f181a"/><rect x="90" y="180" width="5.1" height="5.1" fill="#1f181a"/><rect x="0" y="185" width="25.1" height="5.1" fill="#1f181a"/><rect x="85" y="185" width="10.1" height="5.1" fill="#1f181a"/><rect x="5" y="190" width="10.1" height="5.1" fill="#1f181a"/><rect x="20" y="190" width="5.1" height="5.1" fill="#1f181a"/></g>
</g>
<g filter="url(#sb)"><line x1="6.5" y1="38.0" x2="21.5" y2="38.5" stroke="#d8303c" stroke-width="2.0" stroke-linecap="round" opacity="0.8"/><line x1="17.0" y1="35.0" x2="21.0" y2="35.0" stroke="#6ad050" stroke-width="1.8" stroke-linecap="round" opacity="0.8"/><line x1="6.5" y1="54.5" x2="14.0" y2="55.5" stroke="#5cc848" stroke-width="1.6" stroke-linecap="round" opacity="0.8"/><line x1="25.5" y1="58.0" x2="33.0" y2="57.5" stroke="#58c048" stroke-width="1.6" stroke-linecap="round" opacity="0.8"/><line x1="12.5" y1="82.0" x2="17.5" y2="82.0" stroke="#c84030" stroke-width="1.8" stroke-linecap="round" opacity="0.8"/><line x1="24.0" y1="108.5" x2="30.5" y2="108.5" stroke="#58c048" stroke-width="1.5" stroke-linecap="round" opacity="0.8"/><line x1="37.0" y1="118.0" x2="42.5" y2="118.0" stroke="#58c048" stroke-width="1.5" stroke-linecap="round" opacity="0.8"/><line x1="11.0" y1="145.5" x2="17.5" y2="145.5" stroke="#d83048" stroke-width="2.4" stroke-linecap="round" opacity="0.8"/><line x1="8.5" y1="151.5" x2="13.5" y2="151.8" stroke="#50b048" stroke-width="1.8" stroke-linecap="round" opacity="0.8"/><line x1="60.5" y1="142.0" x2="65.5" y2="142.0" stroke="#58c048" stroke-width="1.5" stroke-linecap="round" opacity="0.8"/><line x1="75.5" y1="128.5" x2="81.0" y2="128.5" stroke="#d83040" stroke-width="1.8" stroke-linecap="round" opacity="0.8"/><line x1="55.0" y1="176.5" x2="60.5" y2="176.5" stroke="#d03040" stroke-width="1.8" stroke-linecap="round" opacity="0.8"/><line x1="50.1" y1="182.5" x2="50.9" y2="187.0" stroke="#5cd048" stroke-width="2.6" stroke-linecap="round" opacity="0.8"/><line x1="33.0" y1="192.8" x2="48.0" y2="193.2" stroke="#e02840" stroke-width="2.6" stroke-linecap="round" opacity="0.8"/><line x1="26.0" y1="190.8" x2="32.5" y2="191.3" stroke="#5cd048" stroke-width="2.2" stroke-linecap="round" opacity="0.8"/><line x1="107.0" y1="154.0" x2="111.5" y2="154.5" stroke="#5cd048" stroke-width="1.6" stroke-linecap="round" opacity="0.8"/><line x1="152.5" y1="156.5" x2="158.0" y2="156.5" stroke="#c03030" stroke-width="1.4" stroke-linecap="round" opacity="0.8"/><line x1="185.5" y1="135.5" x2="188.0" y2="135.5" stroke="#5cd048" stroke-width="1.4" stroke-linecap="round" opacity="0.8"/><line x1="183.5" y1="193.5" x2="186.5" y2="193.5" stroke="#5cd048" stroke-width="1.4" stroke-linecap="round" opacity="0.8"/><line x1="36.5" y1="2.0" x2="38.5" y2="2.0" stroke="#c03040" stroke-width="1.4" stroke-linecap="round" opacity="0.8"/><line x1="51.5" y1="27.5" x2="54.5" y2="28.0" stroke="#c84030" stroke-width="1.4" stroke-linecap="round" opacity="0.8"/><line x1="55.0" y1="197.0" x2="61.5" y2="197.0" stroke="#d03040" stroke-width="1.5" stroke-linecap="round" opacity="0.8"/><line x1="74.5" y1="158.0" x2="76.5" y2="158.0" stroke="#c04030" stroke-width="1.4" stroke-linecap="round" opacity="0.8"/></g>
</svg>
</g>
<text x="499.5" y="40.5" font-size="16" font-weight="bold" fill="#fff" text-anchor="middle">(b)</text>
<text x="484.5" y="203.7" font-size="15.3" fill="#fff" text-anchor="middle">4 cm</text>
<g stroke="#fff" stroke-width="1.6"><line x1="457.5" y1="207.5" x2="510.5" y2="207.5"/>
<line x1="457.5" y1="204" x2="457.5" y2="211"/><line x1="510.5" y1="204" x2="510.5" y2="211"/></g>
<!-- plot -->
<g clip-path="url(#pc)" fill="none" stroke-linejoin="round">
<path d="M42.6,214.6 L43.1,214.6 L43.6,214.6 L44.1,214.6 L44.6,214.6 L45.1,214.6 L45.6,214.6 L46.1,214.6 L46.6,214.6 L47.1,214.6 L47.6,214.6 L48.1,214.6 L48.6,214.6 L49.1,214.6 L49.6,214.6 L50.1,214.6 L50.6,214.6 L51.1,214.6 L51.6,214.6 L52.1,214.6 L52.6,214.6 L53.1,214.6 L53.6,214.6 L54.1,214.6 L54.6,214.6 L55.1,214.6 L55.6,214.6 L56.1,214.6 L56.6,214.6 L57.1,214.6 L57.6,214.6 L58.1,214.6 L58.6,214.6 L59.1,214.6 L59.6,214.6 L60.1,214.6 L60.6,214.6 L61.1,214.6 L61.6,214.6 L62.1,214.6 L62.6,214.6 L63.1,214.6 L63.6,214.6 L64.1,214.6 L64.6,214.6 L65.1,214.6 L65.6,214.6 L66.1,214.6 L66.6,214.6 L67.1,214.6 L67.6,214.6 L68.1,214.6 L68.6,214.6 L69.1,214.6 L69.6,214.6 L70.1,214.6 L70.6,214.6 L71.1,214.6 L71.6,214.6 L72.1,214.6 L72.6,214.6 L73.1,214.6 L73.6,214.6 L74.1,214.6 L74.6,214.6 L75.1,214.6 L75.6,214.6 L76.1,214.6 L76.6,214.6 L77.1,214.6 L77.6,214.6 L78.1,214.6 L78.6,214.6 L79.1,214.6 L79.6,214.6 L80.1,214.6 L80.6,214.6 L81.1,214.6 L81.6,214.6 L82.1,214.6 L82.6,214.6 L83.1,214.6 L83.6,214.6 L84.1,214.6 L84.6,214.6 L85.1,214.6 L85.6,214.6 L86.1,214.6 L86.6,214.6 L87.1,214.6 L87.6,214.6 L88.1,214.6 L88.6,214.6 L89.1,214.6 L89.6,214.6 L90.1,214.6 L90.6,214.6 L91.1,214.6 L91.6,214.6 L92.1,214.6 L92.6,214.6 L93.1,214.6 L93.6,214.6 L94.1,214.6 L94.6,214.6 L95.1,214.6 L95.6,214.6 L96.1,214.6 L96.6,214.6 L97.1,214.6 L97.6,214.6 L98.1,214.6 L98.6,214.6 L99.1,214.6 L99.6,214.6 L100.1,214.6 L100.6,214.6 L101.1,214.6 L101.6,214.6 L102.1,214.6 L102.6,214.6 L103.1,214.6 L103.6,214.6 L104.1,214.6 L104.6,214.6 L105.1,214.6 L105.6,214.6 L106.1,214.6 L106.6,214.6 L107.1,214.6 L107.6,214.6 L108.1,214.6 L108.6,214.6 L109.1,214.6 L109.6,214.6 L110.1,214.6 L110.6,214.6 L111.1,214.6 L111.6,214.6 L112.1,214.6 L112.6,214.6 L113.1,214.6 L113.6,214.6 L114.1,214.6 L114.6,214.6 L115.1,214.6 L115.6,214.6 L116.1,214.6 L116.6,214.6 L117.1,214.6 L117.6,214.6 L118.1,214.6 L118.6,214.6 L119.1,214.6 L119.6,214.6 L120.1,214.6 L120.6,214.6 L121.1,214.5 L121.6,214.5 L122.1,214.5 L122.6,214.5 L123.1,214.5 L123.6,214.5 L124.1,214.5 L124.6,214.5 L125.1,214.5 L125.6,214.5 L126.1,214.5 L126.6,214.5 L127.1,214.5 L127.6,214.5 L128.1,214.5 L128.6,214.5 L129.1,214.5 L129.6,214.5 L130.1,214.5 L130.6,214.5 L131.1,214.5 L131.6,214.5 L132.1,214.5 L132.6,214.5 L133.1,214.5 L133.6,214.5 L134.1,214.5 L134.6,214.5 L135.1,214.4 L135.6,214.4 L136.1,214.4 L136.6,214.4 L137.1,214.4 L137.6,214.4 L138.1,214.4 L138.6,214.4 L139.1,214.4 L139.6,214.4 L140.1,214.4 L140.6,214.4 L141.1,214.4 L141.6,214.4 L142.1,214.4 L142.6,214.3 L143.1,214.3 L143.6,214.3 L144.1,214.3 L144.6,214.3 L145.1,214.2 L145.6,214.2 L146.1,214.2 L146.6,214.1 L147.1,214.1 L147.6,214.1 L148.1,214.0 L148.6,214.0 L149.1,214.0 L149.6,213.9 L150.1,213.9 L150.6,213.8 L151.1,213.8 L151.6,213.7 L152.1,213.7 L152.6,213.6 L153.1,213.5 L153.6,213.4 L154.1,213.3 L154.6,213.2 L155.1,213.1 L155.6,213.0 L156.1,212.9 L156.6,212.8 L157.1,212.7 L157.6,212.6 L158.1,212.5 L158.6,212.5 L159.1,212.4 L159.6,212.3 L160.1,212.2 L160.6,212.1 L161.1,212.0 L161.6,212.0 L162.1,211.9 L162.6,211.8 L163.1,211.7 L163.6,211.7 L164.1,211.6 L164.6,211.5 L165.1,211.4 L165.6,211.3 L166.1,211.2 L166.6,211.0 L167.1,210.8 L167.6,210.6 L168.1,210.4 L168.6,210.1 L169.1,209.9 L169.6,209.7 L170.1,209.5 L170.6,209.3 L171.1,209.1 L171.6,208.9 L172.1,208.7 L172.6,208.5 L173.1,208.3 L173.6,208.1 L174.1,207.9 L174.6,207.7 L175.1,207.5 L175.6,207.2 L176.1,207.0 L176.6,206.8 L177.1,206.6 L177.6,206.3 L178.1,206.1 L178.6,205.8 L179.1,205.5 L179.6,205.3 L180.1,204.9 L180.6,204.6 L181.1,204.2 L181.6,203.8 L182.1,203.4 L182.6,203.0 L183.1,202.5 L183.6,201.9 L184.1,201.4 L184.6,200.8 L185.1,200.1 L185.6,199.4 L186.1,198.6 L186.6,197.8 L187.1,196.8 L187.6,195.8 L188.1,194.7 L188.6,193.3 L189.1,191.8 L189.6,189.9 L190.1,187.3 L190.6,183.5 L191.1,179.0 L191.6,173.6 L192.1,167.3 L192.6,160.7 L193.1,154.6 L193.6,145.8 L194.1,132.3 L194.6,119.7 L195.1,108.0 L195.6,96.1 L196.1,85.0 L196.6,75.2 L197.1,66.6 L197.6,58.0 L198.1,51.7 L198.6,54.9 L199.1,63.5 L199.6,70.7 L200.1,78.1 L200.6,86.9 L201.1,98.3 L201.6,110.3 L202.1,122.1 L202.6,134.8 L203.1,147.8 L203.6,158.0 L204.1,166.7 L204.6,174.5 L205.1,181.3 L205.6,187.2 L206.1,191.8 L206.6,195.2 L207.1,198.0 L207.6,200.5 L208.1,203.0 L208.6,205.1 L209.1,206.8 L209.6,208.2 L210.1,209.4 L210.6,210.2 L211.1,210.6 L211.6,210.9 L212.1,211.2 L212.6,211.4 L213.1,211.6 L213.6,211.7 L214.1,211.8 L214.6,211.9 L215.1,212.0 L215.6,212.1 L216.1,212.2 L216.6,212.3 L217.1,212.3 L217.6,212.4 L218.1,212.4 L218.6,212.5 L219.1,212.5 L219.6,212.6 L220.1,212.6 L220.6,212.6 L221.1,212.7 L221.6,212.7 L222.1,212.7 L222.6,212.7 L223.1,212.8 L223.6,212.8 L224.1,212.8 L224.6,212.8 L225.1,212.9 L225.6,212.9 L226.1,212.9 L226.6,212.9 L227.1,212.9 L227.6,213.0 L228.1,213.0 L228.6,213.0 L229.1,213.0 L229.6,213.0 L230.1,213.0 L230.6,213.1 L231.1,213.1 L231.6,213.1 L232.1,213.1 L232.6,213.1 L233.1,213.1 L233.6,213.1 L234.1,213.1 L234.6,213.2 L235.1,213.2 L235.6,213.2 L236.1,213.2 L236.6,213.2 L237.1,213.2 L237.6,213.2 L238.1,213.2 L238.6,213.2 L239.1,213.2 L239.6,213.2 L240.1,213.2 L240.6,213.2 L241.1,213.2 L241.6,213.2 L242.1,213.2 L242.6,213.2 L243.1,213.2 L243.6,213.2 L244.1,213.2 L244.6,213.2 L245.1,213.2 L245.6,213.2 L246.1,213.2 L246.6,213.2 L247.1,213.2 L247.6,213.2 L248.1,213.2 L248.6,213.2 L249.1,213.2 L249.6,213.2 L250.1,213.2 L250.6,213.2 L251.1,213.2 L251.6,213.2 L252.1,213.2 L252.6,213.2 L253.1,213.2 L253.6,213.2 L254.1,213.2 L254.6,213.2 L255.1,213.2 L255.6,213.2 L256.1,213.2 L256.6,213.2 L257.1,213.2 L257.6,213.2 L258.1,213.2 L258.6,213.2 L259.1,213.2 L259.6,213.2 L260.1,213.2 L260.6,213.2 L261.1,213.2 L261.6,213.2 L262.1,213.2 L262.6,213.2 L263.1,213.2 L263.6,213.2 L264.1,213.2 L264.6,213.2 L265.1,213.2 L265.6,213.2 L266.1,213.2 L266.6,213.2 L267.1,213.2 L267.6,213.2 L268.1,213.2 L268.6,213.2 L269.1,213.2 L269.6,213.2 L270.1,213.2 L270.6,213.2 L271.1,213.2 L271.6,213.2 L272.1,213.2 L272.6,213.2 L273.1,213.2 L273.6,213.2 L274.1,213.2 L274.6,213.2 L275.1,213.2 L275.6,213.2 L276.1,213.2 L276.6,213.2 L277.1,213.2 L277.6,213.2 L278.1,213.2 L278.6,213.2 L279.1,213.2 L279.6,213.2 L280.1,213.2 L280.6,213.2 L281.1,213.2 L281.6,213.2 L282.1,213.2 L282.6,213.2 L283.1,213.2 L283.6,213.2 L284.1,213.2 L284.6,213.2 L285.1,213.2 L285.6,213.2 L286.1,213.2 L286.6,213.2 L287.1,213.2 L287.6,213.2 L288.1,213.2 L288.6,213.2 L289.1,213.2 L289.6,213.2 L290.1,213.2 L290.6,213.2 L291.1,213.2 L291.6,213.2 L292.1,213.2 L292.6,213.2 L293.1,213.2 L293.6,213.2 L294.1,213.2 L294.6,213.2 L295.1,213.2 L295.6,213.2 L296.1,213.2 L296.6,213.2 L297.1,213.2 L297.6,213.2 L298.1,213.2 L298.6,213.2 L299.1,213.2 L299.6,213.2 L300.1,213.2 L300.6,213.2 L301.1,213.2 L301.6,213.2 L302.1,213.2 L302.6,213.2 L303.1,213.2 L303.6,213.2 L304.1,213.2 L304.6,213.2 L305.1,213.2 L305.6,213.2 L306.1,213.2 L306.6,213.2 L307.1,213.2 L307.6,213.2 L308.1,213.2 L308.6,213.2 L309.1,213.2 L309.6,213.2 L310.1,213.2 L310.6,213.2" stroke="#5a9470" stroke-width="1.15" stroke-dasharray="4.6 2 1.3 2"/>
<path d="M42.6,213.9 L43.1,213.9 L43.6,213.9 L44.1,213.9 L44.6,213.9 L45.1,213.9 L45.6,213.9 L46.1,213.9 L46.6,213.9 L47.1,213.9 L47.6,213.9 L48.1,213.9 L48.6,213.9 L49.1,213.9 L49.6,213.9 L50.1,213.9 L50.6,213.9 L51.1,213.9 L51.6,213.9 L52.1,213.9 L52.6,213.9 L53.1,213.9 L53.6,213.9 L54.1,213.9 L54.6,213.9 L55.1,213.9 L55.6,213.9 L56.1,213.9 L56.6,213.9 L57.1,213.9 L57.6,213.9 L58.1,213.9 L58.6,213.9 L59.1,213.9 L59.6,213.9 L60.1,213.9 L60.6,213.9 L61.1,213.9 L61.6,213.9 L62.1,213.9 L62.6,213.9 L63.1,213.9 L63.6,213.9 L64.1,213.9 L64.6,213.9 L65.1,213.9 L65.6,213.9 L66.1,213.9 L66.6,213.9 L67.1,213.9 L67.6,213.9 L68.1,213.9 L68.6,213.9 L69.1,213.9 L69.6,213.9 L70.1,213.9 L70.6,213.9 L71.1,213.9 L71.6,213.9 L72.1,213.9 L72.6,213.9 L73.1,213.9 L73.6,213.9 L74.1,213.9 L74.6,213.9 L75.1,213.9 L75.6,213.9 L76.1,213.9 L76.6,213.9 L77.1,213.9 L77.6,213.9 L78.1,213.9 L78.6,213.9 L79.1,213.9 L79.6,213.9 L80.1,213.9 L80.6,213.9 L81.1,213.9 L81.6,213.9 L82.1,213.9 L82.6,213.9 L83.1,213.9 L83.6,213.9 L84.1,213.9 L84.6,213.9 L85.1,213.9 L85.6,213.9 L86.1,213.9 L86.6,213.9 L87.1,213.9 L87.6,213.9 L88.1,213.9 L88.6,213.9 L89.1,213.9 L89.6,213.9 L90.1,213.9 L90.6,213.9 L91.1,213.9 L91.6,213.9 L92.1,213.9 L92.6,213.9 L93.1,213.9 L93.6,213.9 L94.1,213.9 L94.6,213.9 L95.1,213.9 L95.6,213.9 L96.1,213.9 L96.6,213.9 L97.1,213.9 L97.6,213.9 L98.1,213.9 L98.6,213.9 L99.1,213.9 L99.6,213.9 L100.1,213.9 L100.6,213.9 L101.1,213.9 L101.6,213.9 L102.1,213.9 L102.6,213.9 L103.1,213.9 L103.6,213.9 L104.1,213.9 L104.6,213.9 L105.1,213.9 L105.6,213.9 L106.1,213.9 L106.6,213.9 L107.1,213.9 L107.6,213.9 L108.1,213.9 L108.6,213.9 L109.1,213.9 L109.6,213.9 L110.1,213.9 L110.6,213.9 L111.1,213.9 L111.6,213.9 L112.1,213.9 L112.6,213.9 L113.1,213.9 L113.6,213.9 L114.1,213.9 L114.6,213.9 L115.1,213.9 L115.6,213.9 L116.1,213.9 L116.6,213.9 L117.1,213.9 L117.6,213.9 L118.1,213.9 L118.6,213.9 L119.1,213.9 L119.6,213.9 L120.1,214.0 L120.6,214.0 L121.1,214.0 L121.6,214.0 L122.1,214.0 L122.6,214.0 L123.1,214.0 L123.6,214.0 L124.1,214.0 L124.6,214.0 L125.1,214.0 L125.6,214.0 L126.1,214.0 L126.6,214.0 L127.1,214.0 L127.6,214.0 L128.1,214.0 L128.6,214.0 L129.1,214.0 L129.6,214.0 L130.1,214.0 L130.6,214.0 L131.1,214.0 L131.6,214.0 L132.1,214.0 L132.6,214.0 L133.1,214.0 L133.6,214.0 L134.1,214.0 L134.6,214.0 L135.1,214.0 L135.6,214.0 L136.1,214.0 L136.6,214.0 L137.1,214.0 L137.6,214.0 L138.1,214.0 L138.6,214.0 L139.1,214.0 L139.6,214.0 L140.1,214.0 L140.6,214.0 L141.1,214.0 L141.6,214.0 L142.1,214.0 L142.6,214.0 L143.1,214.0 L143.6,214.0 L144.1,214.0 L144.6,214.0 L145.1,214.0 L145.6,214.0 L146.1,214.0 L146.6,214.0 L147.1,214.0 L147.6,213.9 L148.1,213.9 L148.6,213.9 L149.1,213.9 L149.6,213.9 L150.1,213.9 L150.6,213.9 L151.1,213.8 L151.6,213.8 L152.1,213.7 L152.6,213.6 L153.1,213.5 L153.6,213.4 L154.1,213.3 L154.6,213.2 L155.1,213.1 L155.6,213.0 L156.1,212.8 L156.6,212.6 L157.1,212.5 L157.6,212.3 L158.1,212.0 L158.6,211.8 L159.1,211.5 L159.6,211.2 L160.1,210.9 L160.6,210.6 L161.1,210.3 L161.6,210.0 L162.1,209.7 L162.6,209.3 L163.1,208.9 L163.6,208.5 L164.1,208.1 L164.6,207.6 L165.1,207.2 L165.6,206.7 L166.1,206.2 L166.6,205.7 L167.1,205.1 L167.6,204.6 L168.1,204.0 L168.6,203.4 L169.1,202.9 L169.6,202.4 L170.1,201.8 L170.6,201.3 L171.1,200.7 L171.6,200.2 L172.1,199.7 L172.6,199.2 L173.1,198.7 L173.6,198.1 L174.1,197.6 L174.6,197.1 L175.1,196.6 L175.6,196.2 L176.1,195.7 L176.6,195.3 L177.1,194.8 L177.6,194.3 L178.1,193.9 L178.6,193.5 L179.1,193.1 L179.6,192.9 L180.1,192.7 L180.6,192.5 L181.1,192.4 L181.6,192.2 L182.1,192.1 L182.6,192.0 L183.1,192.0 L183.6,192.0 L184.1,192.0 L184.6,192.0 L185.1,191.9 L185.6,191.9 L186.1,191.9 L186.6,191.9 L187.1,191.9 L187.6,191.9 L188.1,191.8 L188.6,191.8 L189.1,191.7 L189.6,191.7 L190.1,191.6 L190.6,191.4 L191.1,191.0 L191.6,190.6 L192.1,190.0 L192.6,189.4 L193.1,188.5 L193.6,187.4 L194.1,186.0 L194.6,184.4 L195.1,182.6 L195.6,180.5 L196.1,177.8 L196.6,174.7 L197.1,171.3 L197.6,166.8 L198.1,161.6 L198.6,156.1 L199.1,151.0 L199.6,145.9 L200.1,140.9 L200.6,137.0 L201.1,133.8 L201.6,130.9 L202.1,129.2 L202.6,129.1 L203.1,129.4 L203.6,129.9 L204.1,130.7 L204.6,132.5 L205.1,135.4 L205.6,138.7 L206.1,141.9 L206.6,144.8 L207.1,147.9 L207.6,150.7 L208.1,152.9 L208.6,154.8 L209.1,156.6 L209.6,157.9 L210.1,158.6 L210.6,159.0 L211.1,159.3 L211.6,159.5 L212.1,159.5 L212.6,158.8 L213.1,157.4 L213.6,155.6 L214.1,153.6 L214.6,150.9 L215.1,147.4 L215.6,143.8 L216.1,140.3 L216.6,137.0 L217.1,133.6 L217.6,130.5 L218.1,127.9 L218.6,125.5 L219.1,123.3 L219.6,121.7 L220.1,120.3 L220.6,119.0 L221.1,118.3 L221.6,118.3 L222.1,118.8 L222.6,119.7 L223.1,120.7 L223.6,122.8 L224.1,125.9 L224.6,129.3 L225.1,132.6 L225.6,135.9 L226.1,139.3 L226.6,143.0 L227.1,146.9 L227.6,151.1 L228.1,156.0 L228.6,161.0 L229.1,166.0 L229.6,171.1 L230.1,176.0 L230.6,180.0 L231.1,183.5 L231.6,186.5 L232.1,189.0 L232.6,191.1 L233.1,192.9 L233.6,194.2 L234.1,195.4 L234.6,196.4 L235.1,197.2 L235.6,198.0 L236.1,198.6 L236.6,199.1 L237.1,199.6 L237.6,200.0 L238.1,200.4 L238.6,200.8 L239.1,201.3 L239.6,201.7 L240.1,202.2 L240.6,202.7 L241.1,203.2 L241.6,203.7 L242.1,204.2 L242.6,204.6 L243.1,205.1 L243.6,205.6 L244.1,206.1 L244.6,206.6 L245.1,207.0 L245.6,207.5 L246.1,208.0 L246.6,208.4 L247.1,208.9 L247.6,209.2 L248.1,209.6 L248.6,209.9 L249.1,210.2 L249.6,210.5 L250.1,210.8 L250.6,211.1 L251.1,211.4 L251.6,211.6 L252.1,211.9 L252.6,212.1 L253.1,212.3 L253.6,212.4 L254.1,212.5 L254.6,212.6 L255.1,212.7 L255.6,212.7 L256.1,212.8 L256.6,212.8 L257.1,212.9 L257.6,212.9 L258.1,212.9 L258.6,213.0 L259.1,213.0 L259.6,213.0 L260.1,213.0 L260.6,213.0 L261.1,213.0 L261.6,213.0 L262.1,213.0 L262.6,213.0 L263.1,213.0 L263.6,213.0 L264.1,213.0 L264.6,213.0 L265.1,213.0 L265.6,213.0 L266.1,213.0 L266.6,213.0 L267.1,213.0 L267.6,213.0 L268.1,213.0 L268.6,213.0 L269.1,213.0 L269.6,213.0 L270.1,213.0 L270.6,213.0 L271.1,213.0 L271.6,213.0 L272.1,213.0 L272.6,213.0 L273.1,213.0 L273.6,213.0 L274.1,213.0 L274.6,213.0 L275.1,213.0 L275.6,213.0 L276.1,213.0 L276.6,213.0 L277.1,213.0 L277.6,213.0 L278.1,213.0 L278.6,213.0 L279.1,213.0 L279.6,213.0 L280.1,213.0 L280.6,213.0 L281.1,213.0 L281.6,213.0 L282.1,213.0 L282.6,213.0 L283.1,213.0 L283.6,213.0 L284.1,213.0 L284.6,213.0 L285.1,213.0 L285.6,213.0 L286.1,213.0 L286.6,213.0 L287.1,213.0 L287.6,213.0 L288.1,213.0 L288.6,213.0 L289.1,213.0 L289.6,213.0 L290.1,213.0 L290.6,213.0 L291.1,213.0 L291.6,213.0 L292.1,213.0 L292.6,213.0 L293.1,213.0 L293.6,213.0 L294.1,213.0 L294.6,213.0 L295.1,213.0 L295.6,213.0 L296.1,213.0 L296.6,213.0 L297.1,213.0 L297.6,213.0 L298.1,213.0 L298.6,213.0 L299.1,213.0 L299.6,213.0 L300.1,213.0 L300.6,213.0 L301.1,213.0 L301.6,213.0 L302.1,213.0 L302.6,213.0 L303.1,213.0 L303.6,213.0 L304.1,213.0 L304.6,213.0 L305.1,213.0 L305.6,213.0 L306.1,213.0 L306.6,213.0 L307.1,213.0 L307.6,213.0 L308.1,213.0 L308.6,213.0 L309.1,213.0 L309.6,213.0 L310.1,213.0 L310.6,213.0" stroke="#6a64b8" stroke-width="1.45"/>
<path d="M42.6,214.4 L43.1,214.4 L43.6,214.4 L44.1,214.4 L44.6,214.4 L45.1,214.4 L45.6,214.4 L46.1,214.4 L46.6,214.4 L47.1,214.4 L47.6,214.4 L48.1,214.4 L48.6,214.4 L49.1,214.4 L49.6,214.4 L50.1,214.4 L50.6,214.4 L51.1,214.4 L51.6,214.4 L52.1,214.4 L52.6,214.4 L53.1,214.4 L53.6,214.4 L54.1,214.4 L54.6,214.4 L55.1,214.4 L55.6,214.4 L56.1,214.4 L56.6,214.4 L57.1,214.4 L57.6,214.4 L58.1,214.4 L58.6,214.4 L59.1,214.4 L59.6,214.4 L60.1,214.4 L60.6,214.4 L61.1,214.3 L61.6,214.3 L62.1,214.2 L62.6,214.1 L63.1,214.1 L63.6,214.0 L64.1,213.9 L64.6,213.8 L65.1,213.7 L65.6,213.6 L66.1,213.5 L66.6,213.4 L67.1,213.3 L67.6,213.2 L68.1,213.1 L68.6,213.0 L69.1,212.8 L69.6,212.7 L70.1,212.6 L70.6,212.4 L71.1,212.2 L71.6,212.1 L72.1,211.9 L72.6,211.6 L73.1,211.4 L73.6,211.2 L74.1,211.0 L74.6,210.7 L75.1,210.4 L75.6,210.2 L76.1,209.9 L76.6,209.6 L77.1,209.3 L77.6,209.0 L78.1,208.6 L78.6,208.3 L79.1,207.9 L79.6,207.5 L80.1,207.1 L80.6,206.7 L81.1,206.3 L81.6,205.8 L82.1,205.4 L82.6,204.9 L83.1,204.4 L83.6,203.9 L84.1,203.4 L84.6,202.9 L85.1,202.3 L85.6,201.8 L86.1,201.2 L86.6,200.7 L87.1,200.1 L87.6,199.5 L88.1,198.9 L88.6,198.3 L89.1,197.7 L89.6,197.0 L90.1,196.3 L90.6,195.7 L91.1,195.0 L91.6,194.3 L92.1,193.5 L92.6,192.8 L93.1,192.1 L93.6,191.4 L94.1,190.7 L94.6,189.9 L95.1,189.2 L95.6,188.5 L96.1,187.8 L96.6,187.1 L97.1,186.4 L97.6,185.8 L98.1,185.1 L98.6,184.4 L99.1,183.7 L99.6,183.0 L100.1,182.3 L100.6,181.6 L101.1,180.8 L101.6,180.1 L102.1,179.3 L102.6,178.6 L103.1,177.8 L103.6,177.0 L104.1,176.1 L104.6,175.2 L105.1,174.3 L105.6,173.4 L106.1,172.5 L106.6,171.5 L107.1,170.6 L107.6,169.7 L108.1,168.9 L108.6,168.1 L109.1,167.3 L109.6,166.6 L110.1,165.8 L110.6,165.1 L111.1,164.4 L111.6,163.8 L112.1,163.2 L112.6,162.8 L113.1,162.4 L113.6,162.1 L114.1,161.8 L114.6,161.6 L115.1,161.4 L115.6,161.3 L116.1,161.2 L116.6,161.1 L117.1,161.0 L117.6,161.0 L118.1,161.0 L118.6,161.1 L119.1,161.2 L119.6,161.4 L120.1,161.4 L120.6,161.3 L121.1,161.2 L121.6,161.1 L122.1,161.0 L122.6,161.0 L123.1,161.0 L123.6,161.1 L124.1,161.3 L124.6,161.5 L125.1,161.6 L125.6,161.9 L126.1,162.3 L126.6,162.7 L127.1,163.2 L127.6,163.7 L128.1,164.4 L128.6,165.2 L129.1,166.1 L129.6,167.0 L130.1,168.0 L130.6,169.0 L131.1,170.1 L131.6,171.2 L132.1,172.3 L132.6,173.4 L133.1,174.7 L133.6,175.9 L134.1,177.2 L134.6,178.4 L135.1,179.4 L135.6,180.3 L136.1,181.1 L136.6,181.8 L137.1,182.5 L137.6,183.2 L138.1,183.9 L138.6,184.7 L139.1,185.5 L139.6,186.4 L140.1,187.3 L140.6,188.3 L141.1,189.2 L141.6,190.2 L142.1,191.1 L142.6,192.1 L143.1,193.1 L143.6,194.0 L144.1,195.0 L144.6,195.9 L145.1,196.9 L145.6,197.8 L146.1,198.8 L146.6,199.7 L147.1,200.6 L147.6,201.6 L148.1,202.5 L148.6,203.4 L149.1,204.3 L149.6,205.1 L150.1,205.9 L150.6,206.7 L151.1,207.5 L151.6,208.2 L152.1,208.9 L152.6,209.5 L153.1,210.1 L153.6,210.7 L154.1,211.3 L154.6,211.8 L155.1,212.2 L155.6,212.5 L156.1,212.8 L156.6,213.1 L157.1,213.3 L157.6,213.5 L158.1,213.6 L158.6,213.8 L159.1,213.9 L159.6,214.0 L160.1,214.1 L160.6,214.2 L161.1,214.3 L161.6,214.3 L162.1,214.3 L162.6,214.3 L163.1,214.3 L163.6,214.3 L164.1,214.3 L164.6,214.3 L165.1,214.3 L165.6,214.3 L166.1,214.3 L166.6,214.3 L167.1,214.3 L167.6,214.3 L168.1,214.3 L168.6,214.3 L169.1,214.3 L169.6,214.3 L170.1,214.3 L170.6,214.3 L171.1,214.3 L171.6,214.3 L172.1,214.3 L172.6,214.3 L173.1,214.3 L173.6,214.3 L174.1,214.3 L174.6,214.3 L175.1,214.3 L175.6,214.3 L176.1,214.3 L176.6,214.3 L177.1,214.3 L177.6,214.3 L178.1,214.3 L178.6,214.3 L179.1,214.3 L179.6,214.3 L180.1,214.3 L180.6,214.3 L181.1,214.3 L181.6,214.3 L182.1,214.3 L182.6,214.3 L183.1,214.3 L183.6,214.3 L184.1,214.3 L184.6,214.3 L185.1,214.3 L185.6,214.3 L186.1,214.3 L186.6,214.3 L187.1,214.3 L187.6,214.3 L188.1,214.3 L188.6,214.3 L189.1,214.3 L189.6,214.3 L190.1,214.3 L190.6,214.3 L191.1,214.3 L191.6,214.3 L192.1,214.3 L192.6,214.3 L193.1,214.3 L193.6,214.3 L194.1,214.3 L194.6,214.3 L195.1,214.3 L195.6,214.3 L196.1,214.3 L196.6,214.3 L197.1,214.3 L197.6,214.3 L198.1,214.3 L198.6,214.3 L199.1,214.3 L199.6,214.3 L200.1,214.3 L200.6,214.3 L201.1,214.3 L201.6,214.3 L202.1,214.3 L202.6,214.3 L203.1,214.3 L203.6,214.3 L204.1,214.3 L204.6,214.3 L205.1,214.3 L205.6,214.3 L206.1,214.3 L206.6,214.3 L207.1,214.3 L207.6,214.3 L208.1,214.3 L208.6,214.3 L209.1,214.3 L209.6,214.3 L210.1,214.3 L210.6,214.3 L211.1,214.3 L211.6,214.3 L212.1,214.3 L212.6,214.3 L213.1,214.3 L213.6,214.3 L214.1,214.3 L214.6,214.3 L215.1,214.3 L215.6,214.3 L216.1,214.3 L216.6,214.3 L217.1,214.3 L217.6,214.3 L218.1,214.3 L218.6,214.3 L219.1,214.3 L219.6,214.3 L220.1,214.3 L220.6,214.3 L221.1,214.3 L221.6,214.3 L222.1,214.3 L222.6,214.3 L223.1,214.3 L223.6,214.3 L224.1,214.3 L224.6,214.3 L225.1,214.2 L225.6,214.2 L226.1,214.2 L226.6,214.2 L227.1,214.2 L227.6,214.2 L228.1,214.2 L228.6,214.2 L229.1,214.1 L229.6,214.1 L230.1,214.1 L230.6,214.1 L231.1,214.1 L231.6,214.1 L232.1,214.1 L232.6,214.0 L233.1,214.0 L233.6,214.0 L234.1,214.0 L234.6,214.0 L235.1,213.9 L235.6,213.9 L236.1,213.9 L236.6,213.9 L237.1,213.9 L237.6,213.9 L238.1,213.8 L238.6,213.8 L239.1,213.8 L239.6,213.8 L240.1,213.8 L240.6,213.8 L241.1,213.7 L241.6,213.7 L242.1,213.7 L242.6,213.7 L243.1,213.7 L243.6,213.7 L244.1,213.7 L244.6,213.7 L245.1,213.6 L245.6,213.6 L246.1,213.6 L246.6,213.6 L247.1,213.6 L247.6,213.6 L248.1,213.6 L248.6,213.6 L249.1,213.6 L249.6,213.6 L250.1,213.6 L250.6,213.6 L251.1,213.6 L251.6,213.6 L252.1,213.6 L252.6,213.6 L253.1,213.6 L253.6,213.6 L254.1,213.6 L254.6,213.6 L255.1,213.6 L255.6,213.6 L256.1,213.6 L256.6,213.8 L257.1,214.1 L257.6,214.4 L258.1,214.7 L258.6,214.8 L259.1,214.7 L259.6,214.4 L260.1,214.0 L260.6,213.7 L261.1,213.6 L261.6,213.6 L262.1,213.6 L262.6,213.6 L263.1,213.6 L263.6,213.6 L264.1,213.6 L264.6,213.6 L265.1,213.6 L265.6,213.6 L266.1,213.5 L266.6,213.5 L267.1,213.5 L267.6,213.5 L268.1,213.5 L268.6,213.5 L269.1,213.5 L269.6,213.5 L270.1,213.5 L270.6,213.5 L271.1,213.5 L271.6,213.5 L272.1,213.5 L272.6,213.5 L273.1,213.5 L273.6,213.5 L274.1,213.5 L274.6,213.5 L275.1,213.5 L275.6,213.5 L276.1,213.5 L276.6,213.5 L277.1,213.5 L277.6,213.5 L278.1,213.5 L278.6,213.5 L279.1,213.5 L279.6,213.5 L280.1,213.5 L280.6,213.4 L281.1,213.4 L281.6,213.4 L282.1,213.4 L282.6,213.4 L283.1,213.4 L283.6,213.4 L284.1,213.4 L284.6,213.4 L285.1,213.4 L285.6,213.4 L286.1,213.4 L286.6,213.4 L287.1,213.4 L287.6,213.4 L288.1,213.4 L288.6,213.4 L289.1,213.4 L289.6,213.4 L290.1,213.4 L290.6,213.4 L291.1,213.4 L291.6,213.4 L292.1,213.4 L292.6,213.4 L293.1,213.4 L293.6,213.4 L294.1,213.4 L294.6,213.4 L295.1,213.4 L295.6,213.4 L296.1,213.4 L296.6,213.4 L297.1,213.4 L297.6,213.4 L298.1,213.4 L298.6,213.4 L299.1,213.4 L299.6,213.4 L300.1,213.4 L300.6,213.4 L301.1,213.4 L301.6,213.4 L302.1,213.4 L302.6,213.4 L303.1,213.4 L303.6,213.4 L304.1,213.4 L304.6,213.4 L305.1,213.4 L305.6,213.4 L306.1,213.4 L306.6,213.4 L307.1,213.4 L307.6,213.4 L308.1,213.4 L308.6,213.4 L309.1,213.4 L309.6,213.4 L310.1,213.4 L310.6,213.4" stroke="#cc5262" stroke-width="1.4"/>
<path d="M42.6,214.2 L43.1,214.2 L43.6,214.2 L44.1,214.2 L44.6,214.2 L45.1,214.2 L45.6,214.2 L46.1,214.2 L46.6,214.2 L47.1,214.2 L47.6,214.2 L48.1,214.2 L48.6,214.2 L49.1,214.2 L49.6,214.2 L50.1,214.2 L50.6,214.2 L51.1,214.2 L51.6,214.2 L52.1,214.2 L52.6,214.2 L53.1,214.2 L53.6,214.2 L54.1,214.2 L54.6,214.2 L55.1,214.2 L55.6,214.2 L56.1,214.2 L56.6,214.1 L57.1,214.1 L57.6,214.1 L58.1,214.1 L58.6,214.1 L59.1,214.1 L59.6,214.1 L60.1,214.1 L60.6,214.1 L61.1,214.1 L61.6,214.1 L62.1,214.1 L62.6,214.1 L63.1,214.1 L63.6,214.1 L64.1,214.0 L64.6,214.0 L65.1,214.0 L65.6,213.9 L66.1,213.9 L66.6,213.9 L67.1,213.8 L67.6,213.8 L68.1,213.7 L68.6,213.7 L69.1,213.7 L69.6,213.6 L70.1,213.6 L70.6,213.6 L71.1,213.5 L71.6,213.5 L72.1,213.4 L72.6,213.4 L73.1,213.3 L73.6,213.3 L74.1,213.2 L74.6,213.2 L75.1,213.1 L75.6,213.1 L76.1,213.0 L76.6,213.0 L77.1,212.9 L77.6,212.9 L78.1,212.9 L78.6,212.8 L79.1,212.8 L79.6,212.8 L80.1,212.8 L80.6,212.8 L81.1,212.8 L81.6,212.8 L82.1,212.8 L82.6,212.8 L83.1,212.8 L83.6,212.8 L84.1,212.8 L84.6,212.8 L85.1,212.9 L85.6,212.9 L86.1,212.9 L86.6,212.9 L87.1,212.9 L87.6,212.9 L88.1,212.9 L88.6,212.9 L89.1,212.9 L89.6,213.0 L90.1,213.0 L90.6,213.0 L91.1,213.0 L91.6,213.0 L92.1,213.0 L92.6,213.0 L93.1,213.0 L93.6,213.0 L94.1,213.0 L94.6,213.0 L95.1,213.1 L95.6,213.1 L96.1,213.1 L96.6,213.1 L97.1,213.1 L97.6,213.1 L98.1,213.1 L98.6,213.1 L99.1,213.1 L99.6,213.1 L100.1,213.2 L100.6,213.2 L101.1,213.2 L101.6,213.2 L102.1,213.2 L102.6,213.2 L103.1,213.2 L103.6,213.2 L104.1,213.2 L104.6,213.2 L105.1,213.2 L105.6,213.2 L106.1,213.2 L106.6,213.2 L107.1,213.2 L107.6,213.2 L108.1,213.2 L108.6,213.2 L109.1,213.2 L109.6,213.2 L110.1,213.2 L110.6,213.2 L111.1,213.1 L111.6,213.1 L112.1,213.1 L112.6,213.1 L113.1,213.1 L113.6,213.1 L114.1,213.1 L114.6,213.0 L115.1,212.9 L115.6,212.8 L116.1,212.7 L116.6,212.6 L117.1,212.4 L117.6,212.2 L118.1,212.0 L118.6,211.9 L119.1,211.7 L119.6,211.5 L120.1,211.3 L120.6,211.0 L121.1,210.8 L121.6,210.5 L122.1,210.2 L122.6,209.9 L123.1,209.5 L123.6,209.1 L124.1,208.7 L124.6,208.3 L125.1,207.9 L125.6,207.5 L126.1,207.0 L126.6,206.4 L127.1,205.9 L127.6,205.3 L128.1,204.6 L128.6,204.0 L129.1,203.3 L129.6,202.6 L130.1,201.8 L130.6,201.0 L131.1,200.2 L131.6,199.2 L132.1,198.2 L132.6,197.2 L133.1,196.2 L133.6,195.1 L134.1,194.1 L134.6,193.0 L135.1,192.0 L135.6,191.0 L136.1,190.1 L136.6,189.2 L137.1,188.2 L137.6,187.3 L138.1,186.3 L138.6,185.3 L139.1,184.2 L139.6,183.0 L140.1,181.8 L140.6,180.4 L141.1,179.0 L141.6,177.5 L142.1,175.8 L142.6,174.0 L143.1,171.9 L143.6,169.8 L144.1,167.6 L144.6,165.4 L145.1,163.3 L145.6,161.3 L146.1,159.4 L146.6,157.6 L147.1,155.8 L147.6,154.2 L148.1,152.7 L148.6,151.4 L149.1,150.2 L149.6,149.0 L150.1,148.0 L150.6,147.1 L151.1,146.3 L151.6,145.5 L152.1,144.8 L152.6,144.3 L153.1,143.9 L153.6,143.7 L154.1,143.5 L154.6,143.3 L155.1,143.3 L155.6,143.4 L156.1,143.6 L156.6,143.9 L157.1,144.3 L157.6,144.7 L158.1,145.4 L158.6,146.1 L159.1,146.9 L159.6,147.8 L160.1,148.9 L160.6,150.0 L161.1,151.3 L161.6,152.5 L162.1,153.9 L162.6,155.3 L163.1,156.7 L163.6,158.1 L164.1,159.5 L164.6,160.9 L165.1,162.3 L165.6,163.7 L166.1,165.1 L166.6,166.5 L167.1,167.8 L167.6,169.2 L168.1,170.6 L168.6,172.0 L169.1,173.3 L169.6,174.5 L170.1,175.7 L170.6,176.7 L171.1,177.7 L171.6,178.7 L172.1,179.7 L172.6,180.8 L173.1,181.8 L173.6,182.9 L174.1,183.9 L174.6,184.9 L175.1,185.6 L175.6,186.3 L176.1,187.0 L176.6,187.5 L177.1,188.1 L177.6,188.6 L178.1,189.1 L178.6,189.6 L179.1,190.0 L179.6,190.5 L180.1,190.9 L180.6,191.4 L181.1,191.9 L181.6,192.5 L182.1,193.0 L182.6,193.6 L183.1,194.1 L183.6,194.6 L184.1,195.1 L184.6,195.6 L185.1,196.0 L185.6,196.5 L186.1,196.9 L186.6,197.3 L187.1,197.6 L187.6,197.8 L188.1,198.1 L188.6,198.3 L189.1,198.5 L189.6,198.7 L190.1,198.8 L190.6,199.0 L191.1,199.2 L191.6,199.4 L192.1,199.5 L192.6,199.6 L193.1,199.6 L193.6,199.6 L194.1,199.6 L194.6,199.6 L195.1,199.6 L195.6,199.6 L196.1,199.5 L196.6,199.3 L197.1,198.8 L197.6,198.2 L198.1,197.5 L198.6,196.9 L199.1,196.1 L199.6,195.3 L200.1,194.4 L200.6,193.5 L201.1,192.6 L201.6,191.9 L202.1,191.1 L202.6,190.3 L203.1,189.5 L203.6,188.8 L204.1,188.2 L204.6,187.8 L205.1,187.6 L205.6,187.7 L206.1,188.1 L206.6,188.8 L207.1,189.6 L207.6,190.4 L208.1,191.2 L208.6,192.0 L209.1,193.1 L209.6,194.1 L210.1,195.2 L210.6,196.1 L211.1,196.8 L211.6,197.3 L212.1,197.8 L212.6,198.2 L213.1,198.5 L213.6,198.7 L214.1,198.8 L214.6,198.8 L215.1,198.7 L215.6,198.7 L216.1,198.6 L216.6,198.5 L217.1,198.1 L217.6,197.5 L218.1,196.8 L218.6,196.1 L219.1,195.4 L219.6,194.9 L220.1,194.5 L220.6,194.1 L221.1,193.7 L221.6,193.5 L222.1,193.4 L222.6,193.5 L223.1,193.8 L223.6,194.2 L224.1,194.6 L224.6,195.1 L225.1,195.6 L225.6,196.3 L226.1,197.1 L226.6,198.1 L227.1,199.1 L227.6,200.2 L228.1,201.2 L228.6,202.3 L229.1,203.4 L229.6,204.6 L230.1,205.7 L230.6,206.7 L231.1,207.7 L231.6,208.6 L232.1,209.5 L232.6,210.1 L233.1,210.5 L233.6,210.9 L234.1,211.2 L234.6,211.4 L235.1,211.6 L235.6,211.7 L236.1,211.8 L236.6,211.8 L237.1,211.9 L237.6,211.9 L238.1,211.9 L238.6,211.9 L239.1,212.0 L239.6,212.0 L240.1,212.0 L240.6,212.0 L241.1,212.0 L241.6,212.0 L242.1,212.0 L242.6,212.0 L243.1,212.0 L243.6,212.0 L244.1,212.0 L244.6,212.0 L245.1,212.0 L245.6,212.0 L246.1,212.0 L246.6,212.0 L247.1,211.9 L247.6,211.9 L248.1,211.9 L248.6,211.9 L249.1,211.9 L249.6,211.9 L250.1,211.9 L250.6,211.9 L251.1,211.9 L251.6,211.9 L252.1,211.8 L252.6,211.8 L253.1,211.8 L253.6,211.8 L254.1,211.8 L254.6,211.8 L255.1,211.8 L255.6,211.8 L256.1,211.8 L256.6,211.8 L257.1,211.8 L257.6,211.8 L258.1,211.8 L258.6,211.8 L259.1,211.8 L259.6,211.8 L260.1,211.8 L260.6,211.7 L261.1,211.7 L261.6,211.7 L262.1,211.7 L262.6,211.7 L263.1,211.7 L263.6,211.7 L264.1,211.7 L264.6,211.7 L265.1,211.7 L265.6,211.7 L266.1,211.7 L266.6,211.7 L267.1,211.7 L267.6,211.7 L268.1,211.7 L268.6,211.7 L269.1,211.7 L269.6,211.7 L270.1,211.7 L270.6,211.7 L271.1,211.7 L271.6,211.7 L272.1,211.7 L272.6,211.7 L273.1,211.7 L273.6,211.7 L274.1,211.7 L274.6,211.7 L275.1,211.7 L275.6,211.7 L276.1,211.7 L276.6,211.7 L277.1,211.7 L277.6,211.7 L278.1,211.7 L278.6,211.7 L279.1,211.7 L279.6,211.7 L280.1,211.7 L280.6,211.7 L281.1,211.7 L281.6,211.7 L282.1,211.7 L282.6,211.7 L283.1,211.7 L283.6,211.7 L284.1,211.7 L284.6,211.7 L285.1,211.7 L285.6,211.7 L286.1,211.7 L286.6,211.7 L287.1,211.7 L287.6,211.7 L288.1,211.7 L288.6,211.7 L289.1,211.7 L289.6,211.7 L290.1,211.7 L290.6,211.7 L291.1,211.7 L291.6,211.7 L292.1,211.7 L292.6,211.7 L293.1,211.7 L293.6,211.7 L294.1,211.7 L294.6,211.7 L295.1,211.7 L295.6,211.7 L296.1,211.7 L296.6,211.7 L297.1,211.7 L297.6,211.7 L298.1,211.7 L298.6,211.7 L299.1,211.7 L299.6,211.7 L300.1,211.7 L300.6,211.7 L301.1,211.7 L301.6,211.7 L302.1,211.7 L302.6,211.7 L303.1,211.7 L303.6,211.7 L304.1,211.7 L304.6,211.7 L305.1,211.7 L305.6,211.7 L306.1,211.7 L306.6,211.7 L307.1,211.7 L307.6,211.7 L308.1,211.7 L308.6,211.7 L309.1,211.7 L309.6,211.7 L310.1,211.7 L310.6,211.7" stroke="#dc8c48" stroke-width="1.5"/>
<path d="M42.6,211.3 L43.1,211.8 L43.6,211.6 L44.1,212.2 L44.6,212.9 L45.1,213.1 L45.6,212.4 L46.1,212.7 L46.6,212.7 L47.1,213.3 L47.6,212.9 L48.1,213.4 L48.6,213.6 L49.1,213.2 L49.6,213.6 L50.1,213.5 L50.6,212.9 L51.1,213.5 L51.6,213.1 L52.1,213.3 L52.6,213.2 L53.1,213.6 L53.6,213.3 L54.1,213.0 L54.6,213.4 L55.1,213.7 L55.6,213.2 L56.1,213.1 L56.6,213.3 L57.1,213.9 L57.6,213.9 L58.1,213.6 L58.6,213.8 L59.1,213.8 L59.6,213.3 L60.1,213.0 L60.6,213.6 L61.1,213.5 L61.6,213.2 L62.1,213.1 L62.6,213.2 L63.1,213.1 L63.6,212.8 L64.1,212.6 L64.6,212.6 L65.1,212.8 L65.6,212.2 L66.1,211.7 L66.6,211.4 L67.1,211.4 L67.6,210.9 L68.1,210.6 L68.6,210.7 L69.1,210.0 L69.6,210.2 L70.1,209.8 L70.6,209.9 L71.1,209.6 L71.6,209.3 L72.1,209.0 L72.6,208.4 L73.1,208.4 L73.6,207.8 L74.1,207.9 L74.6,207.4 L75.1,207.4 L75.6,206.9 L76.1,207.0 L76.6,207.7 L77.1,206.9 L77.6,207.3 L78.1,207.2 L78.6,207.2 L79.1,206.9 L79.6,207.0 L80.1,206.4 L80.6,206.3 L81.1,206.4 L81.6,206.4 L82.1,206.3 L82.6,206.3 L83.1,206.7 L83.6,206.3 L84.1,207.1 L84.6,206.8 L85.1,206.6 L85.6,206.8 L86.1,206.3 L86.6,207.0 L87.1,206.9 L87.6,206.8 L88.1,206.5 L88.6,206.9 L89.1,206.8 L89.6,206.7 L90.1,207.1 L90.6,206.8 L91.1,206.6 L91.6,206.8 L92.1,206.5 L92.6,206.6 L93.1,207.3 L93.6,207.4 L94.1,207.7 L94.6,207.6 L95.1,207.4 L95.6,206.9 L96.1,207.5 L96.6,208.0 L97.1,208.0 L97.6,207.7 L98.1,207.8 L98.6,207.6 L99.1,207.7 L99.6,207.7 L100.1,208.7 L100.6,208.5 L101.1,208.1 L101.6,208.5 L102.1,208.3 L102.6,208.6 L103.1,209.3 L103.6,209.3 L104.1,209.3 L104.6,209.2 L105.1,209.8 L105.6,210.3 L106.1,209.8 L106.6,209.6 L107.1,209.8 L107.6,209.9 L108.1,211.1 L108.6,210.8 L109.1,211.3 L109.6,210.8 L110.1,211.1 L110.6,211.8 L111.1,212.2 L111.6,211.8 L112.1,211.7 L112.6,212.8 L113.1,212.3 L113.6,212.9 L114.1,212.3 L114.6,213.0 L115.1,213.2 L115.6,213.1 L116.1,212.8 L116.6,213.2 L117.1,212.6 L117.6,212.9 L118.1,213.0 L118.6,213.6 L119.1,212.8 L119.6,213.6 L120.1,213.5 L120.6,213.7 L121.1,213.1 L121.6,212.9 L122.1,213.0 L122.6,213.6 L123.1,213.8 L123.6,213.5 L124.1,213.3 L124.6,213.0 L125.1,213.7 L125.6,213.7 L126.1,212.8 L126.6,213.0 L127.1,213.7 L127.6,213.7 L128.1,213.1 L128.6,213.1 L129.1,213.2 L129.6,213.3 L130.1,212.8 L130.6,213.7 L131.1,213.3 L131.6,213.6 L132.1,213.0 L132.6,213.8 L133.1,213.5 L133.6,213.0 L134.1,213.7 L134.6,213.4 L135.1,213.5 L135.6,212.6 L136.1,212.5 L136.6,213.1 L137.1,212.5 L137.6,212.6 L138.1,211.5 L138.6,210.4 L139.1,208.6 L139.6,207.3 L140.1,205.5 L140.6,204.6 L141.1,203.8 L141.6,203.7 L142.1,203.4 L142.6,203.7 L143.1,204.6 L143.6,207.0 L144.1,209.9 L144.6,211.6 L145.1,212.9 L145.6,213.3 L146.1,213.4 L146.6,213.5 L147.1,213.4 L147.6,213.6 L148.1,213.4 L148.6,213.5 L149.1,213.7 L149.6,213.5 L150.1,213.5 L150.6,213.5 L151.1,213.5 L151.6,213.3 L152.1,213.3 L152.6,213.4 L153.1,213.2 L153.6,213.3 L154.1,213.2 L154.6,213.0 L155.1,213.0 L155.6,212.7 L156.1,212.5 L156.6,212.5 L157.1,212.3 L157.6,212.2 L158.1,211.8 L158.6,211.6 L159.1,211.7 L159.6,211.2 L160.1,211.1 L160.6,211.2 L161.1,210.7 L161.6,210.5 L162.1,210.6 L162.6,210.4 L163.1,210.2 L163.6,209.8 L164.1,209.7 L164.6,209.4 L165.1,209.3 L165.6,209.2 L166.1,208.6 L166.6,208.3 L167.1,208.1 L167.6,207.7 L168.1,207.1 L168.6,206.8 L169.1,206.4 L169.6,206.1 L170.1,206.1 L170.6,205.7 L171.1,205.9 L171.6,205.7 L172.1,206.2 L172.6,206.3 L173.1,206.4 L173.6,206.6 L174.1,206.6 L174.6,206.8 L175.1,206.5 L175.6,206.6 L176.1,206.6 L176.6,206.5 L177.1,206.0 L177.6,205.8 L178.1,205.8 L178.6,205.3 L179.1,205.0 L179.6,205.0 L180.1,204.7 L180.6,204.6 L181.1,204.3 L181.6,204.1 L182.1,203.9 L182.6,203.6 L183.1,203.6 L183.6,203.3 L184.1,203.1 L184.6,203.0 L185.1,202.6 L185.6,202.8 L186.1,202.7 L186.6,202.6 L187.1,202.7 L187.6,202.6 L188.1,203.1 L188.6,203.0 L189.1,203.3 L189.6,203.4 L190.1,203.7 L190.6,204.4 L191.1,204.9 L191.6,205.5 L192.1,206.0 L192.6,206.6 L193.1,206.7 L193.6,207.4 L194.1,207.8 L194.6,208.4 L195.1,208.8 L195.6,209.4 L196.1,210.1 L196.6,210.8 L197.1,211.7 L197.6,212.6 L198.1,213.2 L198.6,213.9 L199.1,214.0 L199.6,213.9 L200.1,213.2 L200.6,212.3 L201.1,211.2 L201.6,210.3 L202.1,209.2 L202.6,208.0 L203.1,206.6 L203.6,205.5 L204.1,204.2 L204.6,203.2 L205.1,202.1 L205.6,201.2 L206.1,200.3 L206.6,199.7 L207.1,198.9 L207.6,198.0 L208.1,197.7 L208.6,197.8 L209.1,197.5 L209.6,197.8 L210.1,198.2 L210.6,198.2 L211.1,198.8 L211.6,199.0 L212.1,199.3 L212.6,199.6 L213.1,200.0 L213.6,200.1 L214.1,200.5 L214.6,200.7 L215.1,201.3 L215.6,201.9 L216.1,202.9 L216.6,203.9 L217.1,204.5 L217.6,205.5 L218.1,206.3 L218.6,207.0 L219.1,207.6 L219.6,207.6 L220.1,207.4 L220.6,207.1 L221.1,206.5 L221.6,206.1 L222.1,205.8 L222.6,205.1 L223.1,204.4 L223.6,203.5 L224.1,203.0 L224.6,201.8 L225.1,200.9 L225.6,199.7 L226.1,198.7 L226.6,197.7 L227.1,196.8 L227.6,195.7 L228.1,195.0 L228.6,193.9 L229.1,193.2 L229.6,192.4 L230.1,191.6 L230.6,190.8 L231.1,190.3 L231.6,190.1 L232.1,189.5 L232.6,189.0 L233.1,188.9 L233.6,188.2 L234.1,188.3 L234.6,187.8 L235.1,187.7 L235.6,187.9 L236.1,187.8 L236.6,188.1 L237.1,188.3 L237.6,188.9 L238.1,189.3 L238.6,189.6 L239.1,189.9 L239.6,190.3 L240.1,190.5 L240.6,190.6 L241.1,190.8 L241.6,190.9 L242.1,191.1 L242.6,191.2 L243.1,191.4 L243.6,191.5 L244.1,191.5 L244.6,191.5 L245.1,191.5 L245.6,191.6 L246.1,191.4 L246.6,191.6 L247.1,191.6 L247.6,191.6 L248.1,191.4 L248.6,191.3 L249.1,191.3 L249.6,191.3 L250.1,191.2 L250.6,191.0 L251.1,190.9 L251.6,190.5 L252.1,190.2 L252.6,189.1 L253.1,186.8 L253.6,179.2 L254.1,163.2 L254.6,143.3 L255.1,119.0 L255.6,97.6 L256.1,78.2 L256.6,61.8 L257.1,46.5 L257.6,41.3 L258.1,47.6 L258.6,58.1 L259.1,68.3 L259.6,79.8 L260.1,91.2 L260.6,100.1 L261.1,108.0 L261.6,114.9 L262.1,121.4 L262.6,126.8 L263.1,131.7 L263.6,136.6 L264.1,141.0 L264.6,145.1 L265.1,148.8 L265.6,152.2 L266.1,155.8 L266.6,158.8 L267.1,161.6 L267.6,164.1 L268.1,166.4 L268.6,168.7 L269.1,170.4 L269.6,172.6 L270.1,174.3 L270.6,175.9 L271.1,178.1 L271.6,179.7 L272.1,181.3 L272.6,182.9 L273.1,184.4 L273.6,185.1 L274.1,186.3 L274.6,187.2 L275.1,187.8 L275.6,188.7 L276.1,189.5 L276.6,190.1 L277.1,190.9 L277.6,191.3 L278.1,192.1 L278.6,192.3 L279.1,193.5 L279.6,194.0 L280.1,194.2 L280.6,194.4 L281.1,195.0 L281.6,195.8 L282.1,195.8 L282.6,196.7 L283.1,197.1 L283.6,197.8 L284.1,198.4 L284.6,199.5 L285.1,199.2 L285.6,199.6 L286.1,199.8 L286.6,200.0 L287.1,200.7 L287.6,201.4 L288.1,201.7 L288.6,201.4 L289.1,201.5 L289.6,202.1 L290.1,201.9 L290.6,202.0 L291.1,202.2 L291.6,201.6 L292.1,202.6 L292.6,201.8 L293.1,202.4 L293.6,202.9 L294.1,202.5 L294.6,202.4 L295.1,202.9 L295.6,203.1 L296.1,202.8 L296.6,202.3 L297.1,203.2 L297.6,202.3 L298.1,203.1 L298.6,203.4 L299.1,202.6 L299.6,203.0 L300.1,203.2 L300.6,202.7 L301.1,202.8 L301.6,202.6 L302.1,202.7 L302.6,202.7 L303.1,202.9 L303.6,203.4 L304.1,203.4 L304.6,203.5 L305.1,203.4 L305.6,203.5 L306.1,202.8 L306.6,203.3 L307.1,202.7 L307.6,203.3 L308.1,203.7 L308.6,203.3 L309.1,203.1 L309.6,203.0 L310.1,203.2 L310.6,203.8" stroke="#000" stroke-width="1.6"/>
</g>
<rect x="42.6" y="20.3" width="268.5" height="197.5" fill="none" stroke="#111" stroke-width="1.6"/>
<g stroke="#111" stroke-width="1.2"><line x1="42.6" y1="214.4" x2="46.6" y2="214.4"/><line x1="311.1" y1="214.4" x2="307.1" y2="214.4"/><line x1="42.6" y1="198.2" x2="44.800000000000004" y2="198.2"/><line x1="311.1" y1="198.2" x2="308.90000000000003" y2="198.2"/><line x1="42.6" y1="182.0" x2="46.6" y2="182.0"/><line x1="311.1" y1="182.0" x2="307.1" y2="182.0"/><line x1="42.6" y1="165.8" x2="44.800000000000004" y2="165.8"/><line x1="311.1" y1="165.8" x2="308.90000000000003" y2="165.8"/><line x1="42.6" y1="149.6" x2="46.6" y2="149.6"/><line x1="311.1" y1="149.6" x2="307.1" y2="149.6"/><line x1="42.6" y1="133.4" x2="44.800000000000004" y2="133.4"/><line x1="311.1" y1="133.4" x2="308.90000000000003" y2="133.4"/><line x1="42.6" y1="117.2" x2="46.6" y2="117.2"/><line x1="311.1" y1="117.2" x2="307.1" y2="117.2"/><line x1="42.6" y1="101.0" x2="44.800000000000004" y2="101.0"/><line x1="311.1" y1="101.0" x2="308.90000000000003" y2="101.0"/><line x1="42.6" y1="84.8" x2="46.6" y2="84.8"/><line x1="311.1" y1="84.8" x2="307.1" y2="84.8"/><line x1="42.6" y1="68.6" x2="44.800000000000004" y2="68.6"/><line x1="311.1" y1="68.6" x2="308.90000000000003" y2="68.6"/><line x1="42.6" y1="52.4" x2="46.6" y2="52.4"/><line x1="311.1" y1="52.4" x2="307.1" y2="52.4"/><line x1="42.6" y1="36.2" x2="44.800000000000004" y2="36.2"/><line x1="311.1" y1="36.2" x2="308.90000000000003" y2="36.2"/><line x1="42.6" y1="20.0" x2="46.6" y2="20.0"/><line x1="311.1" y1="20.0" x2="307.1" y2="20.0"/><line x1="78.4" y1="217.8" x2="78.4" y2="213.8"/><line x1="78.4" y1="20.3" x2="78.4" y2="24.3"/><line x1="114.2" y1="217.8" x2="114.2" y2="215.4"/><line x1="114.2" y1="20.3" x2="114.2" y2="22.7"/><line x1="150.1" y1="217.8" x2="150.1" y2="213.8"/><line x1="150.1" y1="20.3" x2="150.1" y2="24.3"/><line x1="185.9" y1="217.8" x2="185.9" y2="215.4"/><line x1="185.9" y1="20.3" x2="185.9" y2="22.7"/><line x1="221.7" y1="217.8" x2="221.7" y2="213.8"/><line x1="221.7" y1="20.3" x2="221.7" y2="24.3"/><line x1="257.5" y1="217.8" x2="257.5" y2="215.4"/><line x1="257.5" y1="20.3" x2="257.5" y2="22.7"/><line x1="293.3" y1="217.8" x2="293.3" y2="213.8"/><line x1="293.3" y1="20.3" x2="293.3" y2="24.3"/></g>
<g font-size="7.6" fill="#3a3a3a" text-anchor="end"><text x="39.4" y="217.0">0.0</text><text x="39.4" y="184.6">0.1</text><text x="39.4" y="152.2">0.2</text><text x="39.4" y="119.8">0.3</text><text x="39.4" y="87.4">0.4</text><text x="39.4" y="55.0">0.5</text><text x="39.4" y="22.6">0.6</text></g>
<g font-size="10.3" fill="#222" text-anchor="middle"><text x="78.4" y="230.2">0.6</text><text x="150.1" y="230.2">0.8</text><text x="221.7" y="230.2">1.0</text><text x="293.3" y="230.2">1.2</text></g>
<text x="177" y="246.5" font-size="12.8" fill="#222" stroke="#222" stroke-width="0.2" text-anchor="middle">Energy [eV]</text>
<text transform="translate(19.4,117) rotate(-90)" font-size="13.4" fill="#222" stroke="#222" stroke-width="0.15" text-anchor="middle">Intensity [arb. units]</text>
<!-- legend -->
<rect x="51.6" y="31.4" width="101.4" height="74.2" fill="#fff" stroke="#a8a8a8" stroke-width="1"/>
<g stroke-width="1.35">
<line x1="56" y1="38.8" x2="84" y2="38.8" stroke="#7c74c8"/>
<line x1="56" y1="53.8" x2="84" y2="53.8" stroke="#e4a070"/>
<line x1="56" y1="68.8" x2="84" y2="68.8" stroke="#000"/>
<line x1="56" y1="83.6" x2="84" y2="83.6" stroke="#dc8092"/>
<line x1="56" y1="98.8" x2="84" y2="98.8" stroke="#7a9a94" stroke-width="1.3" stroke-dasharray="4.6 2 1.4 2"/>
</g>
<g font-size="12" fill="#1a1a1a" stroke="#1a1a1a" stroke-width="0.2">
<text x="86.5" y="43.4">Type-A</text>
<text x="86.5" y="58.4">Type-B</text>
<text x="86.5" y="73.2">BandToBand</text>
<text x="86.5" y="88.2">D07</text>
<text x="86.5" y="103.2">VID3</text>
</g>
<g font-size="7.6" fill="#222" stroke="#222" stroke-width="0.12" text-anchor="middle">
<text x="119.4" y="155">0.72 eV</text>
<text x="154.9" y="137.5">0.82 eV</text>
<text x="197.7" y="47.3">0.93 eV</text>
<text x="201.8" y="126.4">0.94 eV</text>
<text x="226" y="111.7">1.00 eV</text>
<text x="259.7" y="36.1">1.10 eV</text>
</g>
<text x="293" y="39.2" font-size="16" font-weight="bold" fill="#111" text-anchor="middle">(a)</text>
</svg>
</body></html>
